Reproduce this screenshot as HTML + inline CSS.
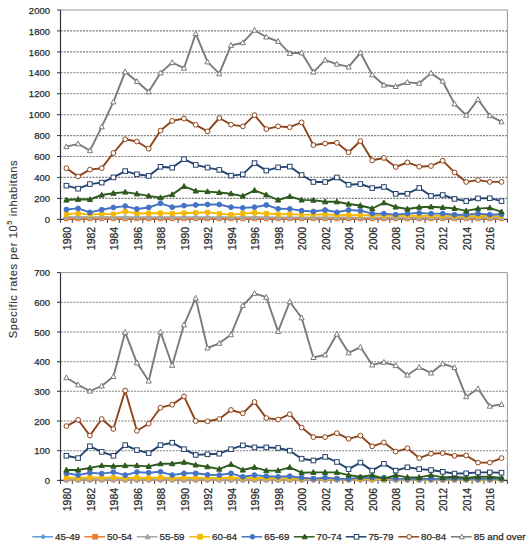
<!DOCTYPE html>
<html><head><meta charset="utf-8">
<style>
html,body{margin:0;padding:0;background:#fff;}
svg{display:block;}
text{font-family:"Liberation Sans",sans-serif;fill:#2b2b2b;stroke:#2b2b2b;stroke-width:0.25px;}
.yl{font-size:9.5px;}
.xl{font-size:10.5px;}
.yt{font-size:11.2px;letter-spacing:0.55px;fill:#333;stroke-width:0.1px;}
.lg{font-size:9.8px;}
</style></head><body>
<svg width="530" height="550" viewBox="0 0 530 550">
<rect width="530" height="550" fill="#fff"/>
<line x1="60.5" y1="198.4" x2="507.4" y2="198.4" stroke="#7a7a7a" stroke-width="1.1" stroke-dasharray="2 1.2"/>
<line x1="60.5" y1="177.4" x2="507.4" y2="177.4" stroke="#7a7a7a" stroke-width="1.1" stroke-dasharray="2 1.2"/>
<line x1="60.5" y1="156.5" x2="507.4" y2="156.5" stroke="#7a7a7a" stroke-width="1.1" stroke-dasharray="2 1.2"/>
<line x1="60.5" y1="135.6" x2="507.4" y2="135.6" stroke="#7a7a7a" stroke-width="1.1" stroke-dasharray="2 1.2"/>
<line x1="60.5" y1="114.7" x2="507.4" y2="114.7" stroke="#7a7a7a" stroke-width="1.1" stroke-dasharray="2 1.2"/>
<line x1="60.5" y1="93.7" x2="507.4" y2="93.7" stroke="#7a7a7a" stroke-width="1.1" stroke-dasharray="2 1.2"/>
<line x1="60.5" y1="72.8" x2="507.4" y2="72.8" stroke="#7a7a7a" stroke-width="1.1" stroke-dasharray="2 1.2"/>
<line x1="60.5" y1="51.9" x2="507.4" y2="51.9" stroke="#7a7a7a" stroke-width="1.1" stroke-dasharray="2 1.2"/>
<line x1="60.5" y1="30.9" x2="507.4" y2="30.9" stroke="#7a7a7a" stroke-width="1.1" stroke-dasharray="2 1.2"/>
<path d="M60.5 10.0H507.4V219.3" fill="none" stroke="#999" stroke-width="1"/>
<line x1="57.0" y1="219.3" x2="60.5" y2="219.3" stroke="#333" stroke-width="1"/>
<text x="50" y="222.9" text-anchor="end" class="yl">0</text>
<line x1="57.0" y1="198.4" x2="60.5" y2="198.4" stroke="#333" stroke-width="1"/>
<text x="50" y="202.0" text-anchor="end" class="yl">200</text>
<line x1="57.0" y1="177.4" x2="60.5" y2="177.4" stroke="#333" stroke-width="1"/>
<text x="50" y="181.0" text-anchor="end" class="yl">400</text>
<line x1="57.0" y1="156.5" x2="60.5" y2="156.5" stroke="#333" stroke-width="1"/>
<text x="50" y="160.1" text-anchor="end" class="yl">600</text>
<line x1="57.0" y1="135.6" x2="60.5" y2="135.6" stroke="#333" stroke-width="1"/>
<text x="50" y="139.2" text-anchor="end" class="yl">800</text>
<line x1="57.0" y1="114.7" x2="60.5" y2="114.7" stroke="#333" stroke-width="1"/>
<text x="50" y="118.2" text-anchor="end" class="yl">1000</text>
<line x1="57.0" y1="93.7" x2="60.5" y2="93.7" stroke="#333" stroke-width="1"/>
<text x="50" y="97.3" text-anchor="end" class="yl">1200</text>
<line x1="57.0" y1="72.8" x2="60.5" y2="72.8" stroke="#333" stroke-width="1"/>
<text x="50" y="76.4" text-anchor="end" class="yl">1400</text>
<line x1="57.0" y1="51.9" x2="60.5" y2="51.9" stroke="#333" stroke-width="1"/>
<text x="50" y="55.5" text-anchor="end" class="yl">1600</text>
<line x1="57.0" y1="30.9" x2="60.5" y2="30.9" stroke="#333" stroke-width="1"/>
<text x="50" y="34.5" text-anchor="end" class="yl">1800</text>
<line x1="57.0" y1="10.0" x2="60.5" y2="10.0" stroke="#333" stroke-width="1"/>
<text x="50" y="13.6" text-anchor="end" class="yl">2000</text>
<line x1="60.5" y1="219.3" x2="60.5" y2="222.8" stroke="#333" stroke-width="1"/>
<line x1="72.3" y1="219.3" x2="72.3" y2="222.8" stroke="#333" stroke-width="1"/>
<line x1="84.0" y1="219.3" x2="84.0" y2="222.8" stroke="#333" stroke-width="1"/>
<line x1="95.8" y1="219.3" x2="95.8" y2="222.8" stroke="#333" stroke-width="1"/>
<line x1="107.5" y1="219.3" x2="107.5" y2="222.8" stroke="#333" stroke-width="1"/>
<line x1="119.3" y1="219.3" x2="119.3" y2="222.8" stroke="#333" stroke-width="1"/>
<line x1="131.1" y1="219.3" x2="131.1" y2="222.8" stroke="#333" stroke-width="1"/>
<line x1="142.8" y1="219.3" x2="142.8" y2="222.8" stroke="#333" stroke-width="1"/>
<line x1="154.6" y1="219.3" x2="154.6" y2="222.8" stroke="#333" stroke-width="1"/>
<line x1="166.3" y1="219.3" x2="166.3" y2="222.8" stroke="#333" stroke-width="1"/>
<line x1="178.1" y1="219.3" x2="178.1" y2="222.8" stroke="#333" stroke-width="1"/>
<line x1="189.9" y1="219.3" x2="189.9" y2="222.8" stroke="#333" stroke-width="1"/>
<line x1="201.6" y1="219.3" x2="201.6" y2="222.8" stroke="#333" stroke-width="1"/>
<line x1="213.4" y1="219.3" x2="213.4" y2="222.8" stroke="#333" stroke-width="1"/>
<line x1="225.1" y1="219.3" x2="225.1" y2="222.8" stroke="#333" stroke-width="1"/>
<line x1="236.9" y1="219.3" x2="236.9" y2="222.8" stroke="#333" stroke-width="1"/>
<line x1="248.7" y1="219.3" x2="248.7" y2="222.8" stroke="#333" stroke-width="1"/>
<line x1="260.4" y1="219.3" x2="260.4" y2="222.8" stroke="#333" stroke-width="1"/>
<line x1="272.2" y1="219.3" x2="272.2" y2="222.8" stroke="#333" stroke-width="1"/>
<line x1="283.9" y1="219.3" x2="283.9" y2="222.8" stroke="#333" stroke-width="1"/>
<line x1="295.7" y1="219.3" x2="295.7" y2="222.8" stroke="#333" stroke-width="1"/>
<line x1="307.5" y1="219.3" x2="307.5" y2="222.8" stroke="#333" stroke-width="1"/>
<line x1="319.2" y1="219.3" x2="319.2" y2="222.8" stroke="#333" stroke-width="1"/>
<line x1="331.0" y1="219.3" x2="331.0" y2="222.8" stroke="#333" stroke-width="1"/>
<line x1="342.8" y1="219.3" x2="342.8" y2="222.8" stroke="#333" stroke-width="1"/>
<line x1="354.5" y1="219.3" x2="354.5" y2="222.8" stroke="#333" stroke-width="1"/>
<line x1="366.3" y1="219.3" x2="366.3" y2="222.8" stroke="#333" stroke-width="1"/>
<line x1="378.0" y1="219.3" x2="378.0" y2="222.8" stroke="#333" stroke-width="1"/>
<line x1="389.8" y1="219.3" x2="389.8" y2="222.8" stroke="#333" stroke-width="1"/>
<line x1="401.6" y1="219.3" x2="401.6" y2="222.8" stroke="#333" stroke-width="1"/>
<line x1="413.3" y1="219.3" x2="413.3" y2="222.8" stroke="#333" stroke-width="1"/>
<line x1="425.1" y1="219.3" x2="425.1" y2="222.8" stroke="#333" stroke-width="1"/>
<line x1="436.8" y1="219.3" x2="436.8" y2="222.8" stroke="#333" stroke-width="1"/>
<line x1="448.6" y1="219.3" x2="448.6" y2="222.8" stroke="#333" stroke-width="1"/>
<line x1="460.4" y1="219.3" x2="460.4" y2="222.8" stroke="#333" stroke-width="1"/>
<line x1="472.1" y1="219.3" x2="472.1" y2="222.8" stroke="#333" stroke-width="1"/>
<line x1="483.9" y1="219.3" x2="483.9" y2="222.8" stroke="#333" stroke-width="1"/>
<line x1="495.6" y1="219.3" x2="495.6" y2="222.8" stroke="#333" stroke-width="1"/>
<line x1="507.4" y1="219.3" x2="507.4" y2="222.8" stroke="#333" stroke-width="1"/>
<text transform="translate(71.0,226.8) rotate(-90)" text-anchor="end" class="xl">1980</text>
<text transform="translate(94.5,226.8) rotate(-90)" text-anchor="end" class="xl">1982</text>
<text transform="translate(118.0,226.8) rotate(-90)" text-anchor="end" class="xl">1984</text>
<text transform="translate(141.5,226.8) rotate(-90)" text-anchor="end" class="xl">1986</text>
<text transform="translate(165.1,226.8) rotate(-90)" text-anchor="end" class="xl">1988</text>
<text transform="translate(188.6,226.8) rotate(-90)" text-anchor="end" class="xl">1990</text>
<text transform="translate(212.1,226.8) rotate(-90)" text-anchor="end" class="xl">1992</text>
<text transform="translate(235.6,226.8) rotate(-90)" text-anchor="end" class="xl">1994</text>
<text transform="translate(259.1,226.8) rotate(-90)" text-anchor="end" class="xl">1996</text>
<text transform="translate(282.7,226.8) rotate(-90)" text-anchor="end" class="xl">1998</text>
<text transform="translate(306.2,226.8) rotate(-90)" text-anchor="end" class="xl">2000</text>
<text transform="translate(329.7,226.8) rotate(-90)" text-anchor="end" class="xl">2002</text>
<text transform="translate(353.2,226.8) rotate(-90)" text-anchor="end" class="xl">2004</text>
<text transform="translate(376.8,226.8) rotate(-90)" text-anchor="end" class="xl">2006</text>
<text transform="translate(400.3,226.8) rotate(-90)" text-anchor="end" class="xl">2008</text>
<text transform="translate(423.8,226.8) rotate(-90)" text-anchor="end" class="xl">2010</text>
<text transform="translate(447.3,226.8) rotate(-90)" text-anchor="end" class="xl">2012</text>
<text transform="translate(470.8,226.8) rotate(-90)" text-anchor="end" class="xl">2014</text>
<text transform="translate(494.4,226.8) rotate(-90)" text-anchor="end" class="xl">2016</text>
<line x1="60.5" y1="10.0" x2="60.5" y2="219.3" stroke="#333" stroke-width="1.2"/>
<line x1="60.5" y1="219.3" x2="507.4" y2="219.3" stroke="#333" stroke-width="1.2"/>
<polyline points="66.4,217.8 78.1,217.8 89.9,217.8 101.7,217.8 113.4,217.8 125.2,217.8 136.9,217.9 148.7,217.9 160.5,217.9 172.2,217.9 184.0,217.9 195.7,217.9 207.5,217.9 219.3,218.0 231.0,218.0 242.8,218.0 254.5,218.0 266.3,218.0 278.1,218.0 289.8,218.0 301.6,218.1 313.4,218.1 325.1,218.1 336.9,218.1 348.6,218.1 360.4,218.3 372.2,218.3 383.9,218.3 395.7,218.3 407.4,218.3 419.2,218.4 431.0,218.4 442.7,218.4 454.5,218.4 466.2,218.4 478.0,218.4 489.8,218.4 501.5,218.4" fill="none" stroke="#5B9BD5" stroke-width="1.9" stroke-linejoin="round"/>
<path d="M66.4 215.2L69.0 217.8L66.4 220.4L63.8 217.8Z" fill="#5B9BD5" stroke="#5B9BD5" stroke-width="1.0"/>
<path d="M78.1 215.2L80.7 217.8L78.1 220.4L75.5 217.8Z" fill="#5B9BD5" stroke="#5B9BD5" stroke-width="1.0"/>
<path d="M89.9 215.2L92.5 217.8L89.9 220.4L87.3 217.8Z" fill="#5B9BD5" stroke="#5B9BD5" stroke-width="1.0"/>
<path d="M101.7 215.2L104.3 217.8L101.7 220.4L99.1 217.8Z" fill="#5B9BD5" stroke="#5B9BD5" stroke-width="1.0"/>
<path d="M113.4 215.2L116.0 217.8L113.4 220.4L110.8 217.8Z" fill="#5B9BD5" stroke="#5B9BD5" stroke-width="1.0"/>
<path d="M125.2 215.2L127.8 217.8L125.2 220.4L122.6 217.8Z" fill="#5B9BD5" stroke="#5B9BD5" stroke-width="1.0"/>
<path d="M136.9 215.3L139.5 217.9L136.9 220.5L134.3 217.9Z" fill="#5B9BD5" stroke="#5B9BD5" stroke-width="1.0"/>
<path d="M148.7 215.3L151.3 217.9L148.7 220.5L146.1 217.9Z" fill="#5B9BD5" stroke="#5B9BD5" stroke-width="1.0"/>
<path d="M160.5 215.3L163.1 217.9L160.5 220.5L157.9 217.9Z" fill="#5B9BD5" stroke="#5B9BD5" stroke-width="1.0"/>
<path d="M172.2 215.3L174.8 217.9L172.2 220.5L169.6 217.9Z" fill="#5B9BD5" stroke="#5B9BD5" stroke-width="1.0"/>
<path d="M184.0 215.3L186.6 217.9L184.0 220.5L181.4 217.9Z" fill="#5B9BD5" stroke="#5B9BD5" stroke-width="1.0"/>
<path d="M195.7 215.3L198.3 217.9L195.7 220.5L193.1 217.9Z" fill="#5B9BD5" stroke="#5B9BD5" stroke-width="1.0"/>
<path d="M207.5 215.3L210.1 217.9L207.5 220.5L204.9 217.9Z" fill="#5B9BD5" stroke="#5B9BD5" stroke-width="1.0"/>
<path d="M219.3 215.4L221.9 218.0L219.3 220.6L216.7 218.0Z" fill="#5B9BD5" stroke="#5B9BD5" stroke-width="1.0"/>
<path d="M231.0 215.4L233.6 218.0L231.0 220.6L228.4 218.0Z" fill="#5B9BD5" stroke="#5B9BD5" stroke-width="1.0"/>
<path d="M242.8 215.4L245.4 218.0L242.8 220.6L240.2 218.0Z" fill="#5B9BD5" stroke="#5B9BD5" stroke-width="1.0"/>
<path d="M254.5 215.4L257.1 218.0L254.5 220.6L251.9 218.0Z" fill="#5B9BD5" stroke="#5B9BD5" stroke-width="1.0"/>
<path d="M266.3 215.4L268.9 218.0L266.3 220.6L263.7 218.0Z" fill="#5B9BD5" stroke="#5B9BD5" stroke-width="1.0"/>
<path d="M278.1 215.4L280.7 218.0L278.1 220.6L275.5 218.0Z" fill="#5B9BD5" stroke="#5B9BD5" stroke-width="1.0"/>
<path d="M289.8 215.4L292.4 218.0L289.8 220.6L287.2 218.0Z" fill="#5B9BD5" stroke="#5B9BD5" stroke-width="1.0"/>
<path d="M301.6 215.5L304.2 218.1L301.6 220.7L299.0 218.1Z" fill="#5B9BD5" stroke="#5B9BD5" stroke-width="1.0"/>
<path d="M313.4 215.5L316.0 218.1L313.4 220.7L310.8 218.1Z" fill="#5B9BD5" stroke="#5B9BD5" stroke-width="1.0"/>
<path d="M325.1 215.5L327.7 218.1L325.1 220.7L322.5 218.1Z" fill="#5B9BD5" stroke="#5B9BD5" stroke-width="1.0"/>
<path d="M336.9 215.5L339.5 218.1L336.9 220.7L334.3 218.1Z" fill="#5B9BD5" stroke="#5B9BD5" stroke-width="1.0"/>
<path d="M348.6 215.5L351.2 218.1L348.6 220.7L346.0 218.1Z" fill="#5B9BD5" stroke="#5B9BD5" stroke-width="1.0"/>
<path d="M360.4 215.7L363.0 218.3L360.4 220.9L357.8 218.3Z" fill="#5B9BD5" stroke="#5B9BD5" stroke-width="1.0"/>
<path d="M372.2 215.7L374.8 218.3L372.2 220.9L369.6 218.3Z" fill="#5B9BD5" stroke="#5B9BD5" stroke-width="1.0"/>
<path d="M383.9 215.7L386.5 218.3L383.9 220.9L381.3 218.3Z" fill="#5B9BD5" stroke="#5B9BD5" stroke-width="1.0"/>
<path d="M395.7 215.7L398.3 218.3L395.7 220.9L393.1 218.3Z" fill="#5B9BD5" stroke="#5B9BD5" stroke-width="1.0"/>
<path d="M407.4 215.7L410.0 218.3L407.4 220.9L404.8 218.3Z" fill="#5B9BD5" stroke="#5B9BD5" stroke-width="1.0"/>
<path d="M419.2 215.8L421.8 218.4L419.2 221.0L416.6 218.4Z" fill="#5B9BD5" stroke="#5B9BD5" stroke-width="1.0"/>
<path d="M431.0 215.8L433.6 218.4L431.0 221.0L428.4 218.4Z" fill="#5B9BD5" stroke="#5B9BD5" stroke-width="1.0"/>
<path d="M442.7 215.8L445.3 218.4L442.7 221.0L440.1 218.4Z" fill="#5B9BD5" stroke="#5B9BD5" stroke-width="1.0"/>
<path d="M454.5 215.8L457.1 218.4L454.5 221.0L451.9 218.4Z" fill="#5B9BD5" stroke="#5B9BD5" stroke-width="1.0"/>
<path d="M466.2 215.8L468.8 218.4L466.2 221.0L463.6 218.4Z" fill="#5B9BD5" stroke="#5B9BD5" stroke-width="1.0"/>
<path d="M478.0 215.8L480.6 218.4L478.0 221.0L475.4 218.4Z" fill="#5B9BD5" stroke="#5B9BD5" stroke-width="1.0"/>
<path d="M489.8 215.8L492.4 218.4L489.8 221.0L487.2 218.4Z" fill="#5B9BD5" stroke="#5B9BD5" stroke-width="1.0"/>
<path d="M501.5 215.8L504.1 218.4L501.5 221.0L498.9 218.4Z" fill="#5B9BD5" stroke="#5B9BD5" stroke-width="1.0"/>
<polyline points="66.4,218.7 78.1,218.7 89.9,218.7 101.7,218.7 113.4,218.7 125.2,218.7 136.9,218.7 148.7,218.7 160.5,218.7 172.2,218.7 184.0,218.7 195.7,218.7 207.5,218.7 219.3,218.7 231.0,218.7 242.8,218.7 254.5,218.7 266.3,218.7 278.1,218.7 289.8,218.7 301.6,218.7 313.4,218.7 325.1,218.7 336.9,218.7 348.6,218.7 360.4,218.7 372.2,218.7 383.9,218.7 395.7,218.7 407.4,218.7 419.2,218.7 431.0,218.7 442.7,218.7 454.5,218.7 466.2,218.7 478.0,218.7 489.8,218.7 501.5,218.7" fill="none" stroke="#ED7D31" stroke-width="1.9" stroke-linejoin="round"/>
<rect x="64.4" y="216.7" width="4.0" height="4.0" fill="#ED7D31" stroke="#ED7D31" stroke-width="1.0"/>
<rect x="76.1" y="216.7" width="4.0" height="4.0" fill="#ED7D31" stroke="#ED7D31" stroke-width="1.0"/>
<rect x="87.9" y="216.7" width="4.0" height="4.0" fill="#ED7D31" stroke="#ED7D31" stroke-width="1.0"/>
<rect x="99.7" y="216.7" width="4.0" height="4.0" fill="#ED7D31" stroke="#ED7D31" stroke-width="1.0"/>
<rect x="111.4" y="216.7" width="4.0" height="4.0" fill="#ED7D31" stroke="#ED7D31" stroke-width="1.0"/>
<rect x="123.2" y="216.7" width="4.0" height="4.0" fill="#ED7D31" stroke="#ED7D31" stroke-width="1.0"/>
<rect x="134.9" y="216.7" width="4.0" height="4.0" fill="#ED7D31" stroke="#ED7D31" stroke-width="1.0"/>
<rect x="146.7" y="216.7" width="4.0" height="4.0" fill="#ED7D31" stroke="#ED7D31" stroke-width="1.0"/>
<rect x="158.5" y="216.7" width="4.0" height="4.0" fill="#ED7D31" stroke="#ED7D31" stroke-width="1.0"/>
<rect x="170.2" y="216.7" width="4.0" height="4.0" fill="#ED7D31" stroke="#ED7D31" stroke-width="1.0"/>
<rect x="182.0" y="216.7" width="4.0" height="4.0" fill="#ED7D31" stroke="#ED7D31" stroke-width="1.0"/>
<rect x="193.7" y="216.7" width="4.0" height="4.0" fill="#ED7D31" stroke="#ED7D31" stroke-width="1.0"/>
<rect x="205.5" y="216.7" width="4.0" height="4.0" fill="#ED7D31" stroke="#ED7D31" stroke-width="1.0"/>
<rect x="217.3" y="216.7" width="4.0" height="4.0" fill="#ED7D31" stroke="#ED7D31" stroke-width="1.0"/>
<rect x="229.0" y="216.7" width="4.0" height="4.0" fill="#ED7D31" stroke="#ED7D31" stroke-width="1.0"/>
<rect x="240.8" y="216.7" width="4.0" height="4.0" fill="#ED7D31" stroke="#ED7D31" stroke-width="1.0"/>
<rect x="252.5" y="216.7" width="4.0" height="4.0" fill="#ED7D31" stroke="#ED7D31" stroke-width="1.0"/>
<rect x="264.3" y="216.7" width="4.0" height="4.0" fill="#ED7D31" stroke="#ED7D31" stroke-width="1.0"/>
<rect x="276.1" y="216.7" width="4.0" height="4.0" fill="#ED7D31" stroke="#ED7D31" stroke-width="1.0"/>
<rect x="287.8" y="216.7" width="4.0" height="4.0" fill="#ED7D31" stroke="#ED7D31" stroke-width="1.0"/>
<rect x="299.6" y="216.7" width="4.0" height="4.0" fill="#ED7D31" stroke="#ED7D31" stroke-width="1.0"/>
<rect x="311.4" y="216.7" width="4.0" height="4.0" fill="#ED7D31" stroke="#ED7D31" stroke-width="1.0"/>
<rect x="323.1" y="216.7" width="4.0" height="4.0" fill="#ED7D31" stroke="#ED7D31" stroke-width="1.0"/>
<rect x="334.9" y="216.7" width="4.0" height="4.0" fill="#ED7D31" stroke="#ED7D31" stroke-width="1.0"/>
<rect x="346.6" y="216.7" width="4.0" height="4.0" fill="#ED7D31" stroke="#ED7D31" stroke-width="1.0"/>
<rect x="358.4" y="216.7" width="4.0" height="4.0" fill="#ED7D31" stroke="#ED7D31" stroke-width="1.0"/>
<rect x="370.2" y="216.7" width="4.0" height="4.0" fill="#ED7D31" stroke="#ED7D31" stroke-width="1.0"/>
<rect x="381.9" y="216.7" width="4.0" height="4.0" fill="#ED7D31" stroke="#ED7D31" stroke-width="1.0"/>
<rect x="393.7" y="216.7" width="4.0" height="4.0" fill="#ED7D31" stroke="#ED7D31" stroke-width="1.0"/>
<rect x="405.4" y="216.7" width="4.0" height="4.0" fill="#ED7D31" stroke="#ED7D31" stroke-width="1.0"/>
<rect x="417.2" y="216.7" width="4.0" height="4.0" fill="#ED7D31" stroke="#ED7D31" stroke-width="1.0"/>
<rect x="429.0" y="216.7" width="4.0" height="4.0" fill="#ED7D31" stroke="#ED7D31" stroke-width="1.0"/>
<rect x="440.7" y="216.7" width="4.0" height="4.0" fill="#ED7D31" stroke="#ED7D31" stroke-width="1.0"/>
<rect x="452.5" y="216.7" width="4.0" height="4.0" fill="#ED7D31" stroke="#ED7D31" stroke-width="1.0"/>
<rect x="464.2" y="216.7" width="4.0" height="4.0" fill="#ED7D31" stroke="#ED7D31" stroke-width="1.0"/>
<rect x="476.0" y="216.7" width="4.0" height="4.0" fill="#ED7D31" stroke="#ED7D31" stroke-width="1.0"/>
<rect x="487.8" y="216.7" width="4.0" height="4.0" fill="#ED7D31" stroke="#ED7D31" stroke-width="1.0"/>
<rect x="499.5" y="216.7" width="4.0" height="4.0" fill="#ED7D31" stroke="#ED7D31" stroke-width="1.0"/>
<polyline points="66.4,217.2 78.1,217.1 89.9,217.2 101.7,217.2 113.4,217.3 125.2,217.2 136.9,217.2 148.7,217.2 160.5,217.2 172.2,217.2 184.0,217.2 195.7,217.2 207.5,217.2 219.3,217.3 231.0,217.3 242.8,217.3 254.5,217.3 266.3,217.3 278.1,217.4 289.8,217.4 301.6,217.4 313.4,217.5 325.1,217.5 336.9,217.5 348.6,217.5 360.4,217.6 372.2,217.6 383.9,217.6 395.7,217.7 407.4,217.7 419.2,217.7 431.0,217.7 442.7,217.7 454.5,217.8 466.2,217.8 478.0,217.8 489.8,217.8 501.5,217.8" fill="none" stroke="#A5A5A5" stroke-width="1.9" stroke-linejoin="round"/>
<path d="M66.4 214.4L69.0 219.2L63.8 219.2Z" fill="#A5A5A5" stroke="#A5A5A5" stroke-width="1.0" stroke-linejoin="miter"/>
<path d="M78.1 214.3L80.7 219.1L75.5 219.1Z" fill="#A5A5A5" stroke="#A5A5A5" stroke-width="1.0" stroke-linejoin="miter"/>
<path d="M89.9 214.4L92.5 219.2L87.3 219.2Z" fill="#A5A5A5" stroke="#A5A5A5" stroke-width="1.0" stroke-linejoin="miter"/>
<path d="M101.7 214.4L104.3 219.2L99.1 219.2Z" fill="#A5A5A5" stroke="#A5A5A5" stroke-width="1.0" stroke-linejoin="miter"/>
<path d="M113.4 214.5L116.0 219.4L110.8 219.4Z" fill="#A5A5A5" stroke="#A5A5A5" stroke-width="1.0" stroke-linejoin="miter"/>
<path d="M125.2 214.4L127.8 219.2L122.6 219.2Z" fill="#A5A5A5" stroke="#A5A5A5" stroke-width="1.0" stroke-linejoin="miter"/>
<path d="M136.9 214.4L139.5 219.2L134.3 219.2Z" fill="#A5A5A5" stroke="#A5A5A5" stroke-width="1.0" stroke-linejoin="miter"/>
<path d="M148.7 214.4L151.3 219.2L146.1 219.2Z" fill="#A5A5A5" stroke="#A5A5A5" stroke-width="1.0" stroke-linejoin="miter"/>
<path d="M160.5 214.4L163.1 219.2L157.9 219.2Z" fill="#A5A5A5" stroke="#A5A5A5" stroke-width="1.0" stroke-linejoin="miter"/>
<path d="M172.2 214.4L174.8 219.2L169.6 219.2Z" fill="#A5A5A5" stroke="#A5A5A5" stroke-width="1.0" stroke-linejoin="miter"/>
<path d="M184.0 214.4L186.6 219.2L181.4 219.2Z" fill="#A5A5A5" stroke="#A5A5A5" stroke-width="1.0" stroke-linejoin="miter"/>
<path d="M195.7 214.4L198.3 219.2L193.1 219.2Z" fill="#A5A5A5" stroke="#A5A5A5" stroke-width="1.0" stroke-linejoin="miter"/>
<path d="M207.5 214.4L210.1 219.2L204.9 219.2Z" fill="#A5A5A5" stroke="#A5A5A5" stroke-width="1.0" stroke-linejoin="miter"/>
<path d="M219.3 214.5L221.9 219.4L216.7 219.4Z" fill="#A5A5A5" stroke="#A5A5A5" stroke-width="1.0" stroke-linejoin="miter"/>
<path d="M231.0 214.5L233.6 219.4L228.4 219.4Z" fill="#A5A5A5" stroke="#A5A5A5" stroke-width="1.0" stroke-linejoin="miter"/>
<path d="M242.8 214.5L245.4 219.4L240.2 219.4Z" fill="#A5A5A5" stroke="#A5A5A5" stroke-width="1.0" stroke-linejoin="miter"/>
<path d="M254.5 214.5L257.1 219.4L251.9 219.4Z" fill="#A5A5A5" stroke="#A5A5A5" stroke-width="1.0" stroke-linejoin="miter"/>
<path d="M266.3 214.5L268.9 219.4L263.7 219.4Z" fill="#A5A5A5" stroke="#A5A5A5" stroke-width="1.0" stroke-linejoin="miter"/>
<path d="M278.1 214.6L280.7 219.5L275.5 219.5Z" fill="#A5A5A5" stroke="#A5A5A5" stroke-width="1.0" stroke-linejoin="miter"/>
<path d="M289.8 214.6L292.4 219.5L287.2 219.5Z" fill="#A5A5A5" stroke="#A5A5A5" stroke-width="1.0" stroke-linejoin="miter"/>
<path d="M301.6 214.6L304.2 219.5L299.0 219.5Z" fill="#A5A5A5" stroke="#A5A5A5" stroke-width="1.0" stroke-linejoin="miter"/>
<path d="M313.4 214.7L316.0 219.6L310.8 219.6Z" fill="#A5A5A5" stroke="#A5A5A5" stroke-width="1.0" stroke-linejoin="miter"/>
<path d="M325.1 214.7L327.7 219.6L322.5 219.6Z" fill="#A5A5A5" stroke="#A5A5A5" stroke-width="1.0" stroke-linejoin="miter"/>
<path d="M336.9 214.7L339.5 219.6L334.3 219.6Z" fill="#A5A5A5" stroke="#A5A5A5" stroke-width="1.0" stroke-linejoin="miter"/>
<path d="M348.6 214.7L351.2 219.6L346.0 219.6Z" fill="#A5A5A5" stroke="#A5A5A5" stroke-width="1.0" stroke-linejoin="miter"/>
<path d="M360.4 214.8L363.0 219.7L357.8 219.7Z" fill="#A5A5A5" stroke="#A5A5A5" stroke-width="1.0" stroke-linejoin="miter"/>
<path d="M372.2 214.8L374.8 219.7L369.6 219.7Z" fill="#A5A5A5" stroke="#A5A5A5" stroke-width="1.0" stroke-linejoin="miter"/>
<path d="M383.9 214.8L386.5 219.7L381.3 219.7Z" fill="#A5A5A5" stroke="#A5A5A5" stroke-width="1.0" stroke-linejoin="miter"/>
<path d="M395.7 214.9L398.3 219.8L393.1 219.8Z" fill="#A5A5A5" stroke="#A5A5A5" stroke-width="1.0" stroke-linejoin="miter"/>
<path d="M407.4 214.9L410.0 219.8L404.8 219.8Z" fill="#A5A5A5" stroke="#A5A5A5" stroke-width="1.0" stroke-linejoin="miter"/>
<path d="M419.2 214.9L421.8 219.8L416.6 219.8Z" fill="#A5A5A5" stroke="#A5A5A5" stroke-width="1.0" stroke-linejoin="miter"/>
<path d="M431.0 214.9L433.6 219.8L428.4 219.8Z" fill="#A5A5A5" stroke="#A5A5A5" stroke-width="1.0" stroke-linejoin="miter"/>
<path d="M442.7 214.9L445.3 219.8L440.1 219.8Z" fill="#A5A5A5" stroke="#A5A5A5" stroke-width="1.0" stroke-linejoin="miter"/>
<path d="M454.5 215.0L457.1 219.9L451.9 219.9Z" fill="#A5A5A5" stroke="#A5A5A5" stroke-width="1.0" stroke-linejoin="miter"/>
<path d="M466.2 215.0L468.8 219.9L463.6 219.9Z" fill="#A5A5A5" stroke="#A5A5A5" stroke-width="1.0" stroke-linejoin="miter"/>
<path d="M478.0 215.0L480.6 219.9L475.4 219.9Z" fill="#A5A5A5" stroke="#A5A5A5" stroke-width="1.0" stroke-linejoin="miter"/>
<path d="M489.8 215.0L492.4 219.9L487.2 219.9Z" fill="#A5A5A5" stroke="#A5A5A5" stroke-width="1.0" stroke-linejoin="miter"/>
<path d="M501.5 215.0L504.1 219.9L498.9 219.9Z" fill="#A5A5A5" stroke="#A5A5A5" stroke-width="1.0" stroke-linejoin="miter"/>
<polyline points="66.4,214.3 78.1,213.4 89.9,214.6 101.7,213.9 113.4,214.1 125.2,211.6 136.9,213.5 148.7,213.2 160.5,213.0 172.2,213.6 184.0,213.0 195.7,212.7 207.5,212.3 219.3,213.6 231.0,214.7 242.8,213.6 254.5,212.7 266.3,213.6 278.1,214.3 289.8,214.1 301.6,214.6 313.4,214.6 325.1,214.3 336.9,215.1 348.6,214.9 360.4,215.1 372.2,215.3 383.9,215.5 395.7,215.7 407.4,215.7 419.2,215.6 431.0,215.8 442.7,215.7 454.5,216.0 466.2,216.2 478.0,216.0 489.8,216.2 501.5,216.2" fill="none" stroke="#F5B800" stroke-width="1.9" stroke-linejoin="round"/>
<rect x="64.4" y="212.3" width="4.0" height="4.0" fill="#F5B800" stroke="#F5B800" stroke-width="1.0"/>
<rect x="76.1" y="211.4" width="4.0" height="4.0" fill="#F5B800" stroke="#F5B800" stroke-width="1.0"/>
<rect x="87.9" y="212.6" width="4.0" height="4.0" fill="#F5B800" stroke="#F5B800" stroke-width="1.0"/>
<rect x="99.7" y="211.9" width="4.0" height="4.0" fill="#F5B800" stroke="#F5B800" stroke-width="1.0"/>
<rect x="111.4" y="212.1" width="4.0" height="4.0" fill="#F5B800" stroke="#F5B800" stroke-width="1.0"/>
<rect x="123.2" y="209.6" width="4.0" height="4.0" fill="#F5B800" stroke="#F5B800" stroke-width="1.0"/>
<rect x="134.9" y="211.5" width="4.0" height="4.0" fill="#F5B800" stroke="#F5B800" stroke-width="1.0"/>
<rect x="146.7" y="211.2" width="4.0" height="4.0" fill="#F5B800" stroke="#F5B800" stroke-width="1.0"/>
<rect x="158.5" y="211.0" width="4.0" height="4.0" fill="#F5B800" stroke="#F5B800" stroke-width="1.0"/>
<rect x="170.2" y="211.6" width="4.0" height="4.0" fill="#F5B800" stroke="#F5B800" stroke-width="1.0"/>
<rect x="182.0" y="211.0" width="4.0" height="4.0" fill="#F5B800" stroke="#F5B800" stroke-width="1.0"/>
<rect x="193.7" y="210.7" width="4.0" height="4.0" fill="#F5B800" stroke="#F5B800" stroke-width="1.0"/>
<rect x="205.5" y="210.3" width="4.0" height="4.0" fill="#F5B800" stroke="#F5B800" stroke-width="1.0"/>
<rect x="217.3" y="211.6" width="4.0" height="4.0" fill="#F5B800" stroke="#F5B800" stroke-width="1.0"/>
<rect x="229.0" y="212.7" width="4.0" height="4.0" fill="#F5B800" stroke="#F5B800" stroke-width="1.0"/>
<rect x="240.8" y="211.6" width="4.0" height="4.0" fill="#F5B800" stroke="#F5B800" stroke-width="1.0"/>
<rect x="252.5" y="210.7" width="4.0" height="4.0" fill="#F5B800" stroke="#F5B800" stroke-width="1.0"/>
<rect x="264.3" y="211.6" width="4.0" height="4.0" fill="#F5B800" stroke="#F5B800" stroke-width="1.0"/>
<rect x="276.1" y="212.3" width="4.0" height="4.0" fill="#F5B800" stroke="#F5B800" stroke-width="1.0"/>
<rect x="287.8" y="212.1" width="4.0" height="4.0" fill="#F5B800" stroke="#F5B800" stroke-width="1.0"/>
<rect x="299.6" y="212.6" width="4.0" height="4.0" fill="#F5B800" stroke="#F5B800" stroke-width="1.0"/>
<rect x="311.4" y="212.6" width="4.0" height="4.0" fill="#F5B800" stroke="#F5B800" stroke-width="1.0"/>
<rect x="323.1" y="212.3" width="4.0" height="4.0" fill="#F5B800" stroke="#F5B800" stroke-width="1.0"/>
<rect x="334.9" y="213.1" width="4.0" height="4.0" fill="#F5B800" stroke="#F5B800" stroke-width="1.0"/>
<rect x="346.6" y="212.9" width="4.0" height="4.0" fill="#F5B800" stroke="#F5B800" stroke-width="1.0"/>
<rect x="358.4" y="213.1" width="4.0" height="4.0" fill="#F5B800" stroke="#F5B800" stroke-width="1.0"/>
<rect x="370.2" y="213.3" width="4.0" height="4.0" fill="#F5B800" stroke="#F5B800" stroke-width="1.0"/>
<rect x="381.9" y="213.5" width="4.0" height="4.0" fill="#F5B800" stroke="#F5B800" stroke-width="1.0"/>
<rect x="393.7" y="213.7" width="4.0" height="4.0" fill="#F5B800" stroke="#F5B800" stroke-width="1.0"/>
<rect x="405.4" y="213.7" width="4.0" height="4.0" fill="#F5B800" stroke="#F5B800" stroke-width="1.0"/>
<rect x="417.2" y="213.6" width="4.0" height="4.0" fill="#F5B800" stroke="#F5B800" stroke-width="1.0"/>
<rect x="429.0" y="213.8" width="4.0" height="4.0" fill="#F5B800" stroke="#F5B800" stroke-width="1.0"/>
<rect x="440.7" y="213.7" width="4.0" height="4.0" fill="#F5B800" stroke="#F5B800" stroke-width="1.0"/>
<rect x="452.5" y="214.0" width="4.0" height="4.0" fill="#F5B800" stroke="#F5B800" stroke-width="1.0"/>
<rect x="464.2" y="214.2" width="4.0" height="4.0" fill="#F5B800" stroke="#F5B800" stroke-width="1.0"/>
<rect x="476.0" y="214.0" width="4.0" height="4.0" fill="#F5B800" stroke="#F5B800" stroke-width="1.0"/>
<rect x="487.8" y="214.2" width="4.0" height="4.0" fill="#F5B800" stroke="#F5B800" stroke-width="1.0"/>
<rect x="499.5" y="214.2" width="4.0" height="4.0" fill="#F5B800" stroke="#F5B800" stroke-width="1.0"/>
<polyline points="66.4,209.5 78.1,208.4 89.9,212.4 101.7,209.7 113.4,207.5 125.2,206.1 136.9,209.0 148.7,207.5 160.5,203.4 172.2,207.2 184.0,205.7 195.7,205.0 207.5,204.5 219.3,204.5 231.0,207.2 242.8,207.9 254.5,207.2 266.3,205.0 278.1,208.8 289.8,208.9 301.6,210.7 313.4,211.5 325.1,210.0 336.9,212.3 348.6,210.0 360.4,210.7 372.2,213.6 383.9,213.6 395.7,214.6 407.4,213.6 419.2,212.9 431.0,213.6 442.7,213.6 454.5,214.7 466.2,214.7 478.0,213.6 489.8,214.7 501.5,214.3" fill="none" stroke="#4472C4" stroke-width="1.9" stroke-linejoin="round"/>
<circle cx="66.4" cy="209.5" r="2.4" fill="#4472C4" stroke="#4472C4" stroke-width="1.0"/>
<circle cx="78.1" cy="208.4" r="2.4" fill="#4472C4" stroke="#4472C4" stroke-width="1.0"/>
<circle cx="89.9" cy="212.4" r="2.4" fill="#4472C4" stroke="#4472C4" stroke-width="1.0"/>
<circle cx="101.7" cy="209.7" r="2.4" fill="#4472C4" stroke="#4472C4" stroke-width="1.0"/>
<circle cx="113.4" cy="207.5" r="2.4" fill="#4472C4" stroke="#4472C4" stroke-width="1.0"/>
<circle cx="125.2" cy="206.1" r="2.4" fill="#4472C4" stroke="#4472C4" stroke-width="1.0"/>
<circle cx="136.9" cy="209.0" r="2.4" fill="#4472C4" stroke="#4472C4" stroke-width="1.0"/>
<circle cx="148.7" cy="207.5" r="2.4" fill="#4472C4" stroke="#4472C4" stroke-width="1.0"/>
<circle cx="160.5" cy="203.4" r="2.4" fill="#4472C4" stroke="#4472C4" stroke-width="1.0"/>
<circle cx="172.2" cy="207.2" r="2.4" fill="#4472C4" stroke="#4472C4" stroke-width="1.0"/>
<circle cx="184.0" cy="205.7" r="2.4" fill="#4472C4" stroke="#4472C4" stroke-width="1.0"/>
<circle cx="195.7" cy="205.0" r="2.4" fill="#4472C4" stroke="#4472C4" stroke-width="1.0"/>
<circle cx="207.5" cy="204.5" r="2.4" fill="#4472C4" stroke="#4472C4" stroke-width="1.0"/>
<circle cx="219.3" cy="204.5" r="2.4" fill="#4472C4" stroke="#4472C4" stroke-width="1.0"/>
<circle cx="231.0" cy="207.2" r="2.4" fill="#4472C4" stroke="#4472C4" stroke-width="1.0"/>
<circle cx="242.8" cy="207.9" r="2.4" fill="#4472C4" stroke="#4472C4" stroke-width="1.0"/>
<circle cx="254.5" cy="207.2" r="2.4" fill="#4472C4" stroke="#4472C4" stroke-width="1.0"/>
<circle cx="266.3" cy="205.0" r="2.4" fill="#4472C4" stroke="#4472C4" stroke-width="1.0"/>
<circle cx="278.1" cy="208.8" r="2.4" fill="#4472C4" stroke="#4472C4" stroke-width="1.0"/>
<circle cx="289.8" cy="208.9" r="2.4" fill="#4472C4" stroke="#4472C4" stroke-width="1.0"/>
<circle cx="301.6" cy="210.7" r="2.4" fill="#4472C4" stroke="#4472C4" stroke-width="1.0"/>
<circle cx="313.4" cy="211.5" r="2.4" fill="#4472C4" stroke="#4472C4" stroke-width="1.0"/>
<circle cx="325.1" cy="210.0" r="2.4" fill="#4472C4" stroke="#4472C4" stroke-width="1.0"/>
<circle cx="336.9" cy="212.3" r="2.4" fill="#4472C4" stroke="#4472C4" stroke-width="1.0"/>
<circle cx="348.6" cy="210.0" r="2.4" fill="#4472C4" stroke="#4472C4" stroke-width="1.0"/>
<circle cx="360.4" cy="210.7" r="2.4" fill="#4472C4" stroke="#4472C4" stroke-width="1.0"/>
<circle cx="372.2" cy="213.6" r="2.4" fill="#4472C4" stroke="#4472C4" stroke-width="1.0"/>
<circle cx="383.9" cy="213.6" r="2.4" fill="#4472C4" stroke="#4472C4" stroke-width="1.0"/>
<circle cx="395.7" cy="214.6" r="2.4" fill="#4472C4" stroke="#4472C4" stroke-width="1.0"/>
<circle cx="407.4" cy="213.6" r="2.4" fill="#4472C4" stroke="#4472C4" stroke-width="1.0"/>
<circle cx="419.2" cy="212.9" r="2.4" fill="#4472C4" stroke="#4472C4" stroke-width="1.0"/>
<circle cx="431.0" cy="213.6" r="2.4" fill="#4472C4" stroke="#4472C4" stroke-width="1.0"/>
<circle cx="442.7" cy="213.6" r="2.4" fill="#4472C4" stroke="#4472C4" stroke-width="1.0"/>
<circle cx="454.5" cy="214.7" r="2.4" fill="#4472C4" stroke="#4472C4" stroke-width="1.0"/>
<circle cx="466.2" cy="214.7" r="2.4" fill="#4472C4" stroke="#4472C4" stroke-width="1.0"/>
<circle cx="478.0" cy="213.6" r="2.4" fill="#4472C4" stroke="#4472C4" stroke-width="1.0"/>
<circle cx="489.8" cy="214.7" r="2.4" fill="#4472C4" stroke="#4472C4" stroke-width="1.0"/>
<circle cx="501.5" cy="214.3" r="2.4" fill="#4472C4" stroke="#4472C4" stroke-width="1.0"/>
<polyline points="66.4,200.0 78.1,199.3 89.9,199.5 101.7,195.0 113.4,193.2 125.2,192.1 136.9,193.9 148.7,195.9 160.5,197.7 172.2,194.6 184.0,186.4 195.7,190.9 207.5,191.6 219.3,192.5 231.0,193.7 242.8,196.1 254.5,190.3 266.3,194.8 278.1,200.0 289.8,196.5 301.6,199.9 313.4,200.1 325.1,201.7 336.9,201.7 348.6,204.0 360.4,205.5 372.2,208.5 383.9,202.8 395.7,207.0 407.4,209.0 419.2,207.2 431.0,206.8 442.7,207.5 454.5,208.4 466.2,210.9 478.0,208.6 489.8,207.9 501.5,211.8" fill="none" stroke="#2E5A1C" stroke-width="1.9" stroke-linejoin="round"/>
<path d="M66.4 197.2L69.0 202.1L63.8 202.1Z" fill="#2E5A1C" stroke="#2E5A1C" stroke-width="1.0" stroke-linejoin="miter"/>
<path d="M78.1 196.5L80.7 201.4L75.5 201.4Z" fill="#2E5A1C" stroke="#2E5A1C" stroke-width="1.0" stroke-linejoin="miter"/>
<path d="M89.9 196.7L92.5 201.6L87.3 201.6Z" fill="#2E5A1C" stroke="#2E5A1C" stroke-width="1.0" stroke-linejoin="miter"/>
<path d="M101.7 192.2L104.3 197.1L99.1 197.1Z" fill="#2E5A1C" stroke="#2E5A1C" stroke-width="1.0" stroke-linejoin="miter"/>
<path d="M113.4 190.4L116.0 195.3L110.8 195.3Z" fill="#2E5A1C" stroke="#2E5A1C" stroke-width="1.0" stroke-linejoin="miter"/>
<path d="M125.2 189.3L127.8 194.1L122.6 194.1Z" fill="#2E5A1C" stroke="#2E5A1C" stroke-width="1.0" stroke-linejoin="miter"/>
<path d="M136.9 191.1L139.5 195.9L134.3 195.9Z" fill="#2E5A1C" stroke="#2E5A1C" stroke-width="1.0" stroke-linejoin="miter"/>
<path d="M148.7 193.1L151.3 197.9L146.1 197.9Z" fill="#2E5A1C" stroke="#2E5A1C" stroke-width="1.0" stroke-linejoin="miter"/>
<path d="M160.5 194.9L163.1 199.8L157.9 199.8Z" fill="#2E5A1C" stroke="#2E5A1C" stroke-width="1.0" stroke-linejoin="miter"/>
<path d="M172.2 191.8L174.8 196.6L169.6 196.6Z" fill="#2E5A1C" stroke="#2E5A1C" stroke-width="1.0" stroke-linejoin="miter"/>
<path d="M184.0 183.6L186.6 188.5L181.4 188.5Z" fill="#2E5A1C" stroke="#2E5A1C" stroke-width="1.0" stroke-linejoin="miter"/>
<path d="M195.7 188.1L198.3 193.0L193.1 193.0Z" fill="#2E5A1C" stroke="#2E5A1C" stroke-width="1.0" stroke-linejoin="miter"/>
<path d="M207.5 188.8L210.1 193.6L204.9 193.6Z" fill="#2E5A1C" stroke="#2E5A1C" stroke-width="1.0" stroke-linejoin="miter"/>
<path d="M219.3 189.7L221.9 194.5L216.7 194.5Z" fill="#2E5A1C" stroke="#2E5A1C" stroke-width="1.0" stroke-linejoin="miter"/>
<path d="M231.0 190.9L233.6 195.7L228.4 195.7Z" fill="#2E5A1C" stroke="#2E5A1C" stroke-width="1.0" stroke-linejoin="miter"/>
<path d="M242.8 193.3L245.4 198.1L240.2 198.1Z" fill="#2E5A1C" stroke="#2E5A1C" stroke-width="1.0" stroke-linejoin="miter"/>
<path d="M254.5 187.5L257.1 192.4L251.9 192.4Z" fill="#2E5A1C" stroke="#2E5A1C" stroke-width="1.0" stroke-linejoin="miter"/>
<path d="M266.3 192.0L268.9 196.9L263.7 196.9Z" fill="#2E5A1C" stroke="#2E5A1C" stroke-width="1.0" stroke-linejoin="miter"/>
<path d="M278.1 197.2L280.7 202.1L275.5 202.1Z" fill="#2E5A1C" stroke="#2E5A1C" stroke-width="1.0" stroke-linejoin="miter"/>
<path d="M289.8 193.7L292.4 198.5L287.2 198.5Z" fill="#2E5A1C" stroke="#2E5A1C" stroke-width="1.0" stroke-linejoin="miter"/>
<path d="M301.6 197.1L304.2 202.0L299.0 202.0Z" fill="#2E5A1C" stroke="#2E5A1C" stroke-width="1.0" stroke-linejoin="miter"/>
<path d="M313.4 197.3L316.0 202.2L310.8 202.2Z" fill="#2E5A1C" stroke="#2E5A1C" stroke-width="1.0" stroke-linejoin="miter"/>
<path d="M325.1 198.9L327.7 203.8L322.5 203.8Z" fill="#2E5A1C" stroke="#2E5A1C" stroke-width="1.0" stroke-linejoin="miter"/>
<path d="M336.9 198.9L339.5 203.8L334.3 203.8Z" fill="#2E5A1C" stroke="#2E5A1C" stroke-width="1.0" stroke-linejoin="miter"/>
<path d="M348.6 201.2L351.2 206.1L346.0 206.1Z" fill="#2E5A1C" stroke="#2E5A1C" stroke-width="1.0" stroke-linejoin="miter"/>
<path d="M360.4 202.7L363.0 207.5L357.8 207.5Z" fill="#2E5A1C" stroke="#2E5A1C" stroke-width="1.0" stroke-linejoin="miter"/>
<path d="M372.2 205.7L374.8 210.6L369.6 210.6Z" fill="#2E5A1C" stroke="#2E5A1C" stroke-width="1.0" stroke-linejoin="miter"/>
<path d="M383.9 200.0L386.5 204.8L381.3 204.8Z" fill="#2E5A1C" stroke="#2E5A1C" stroke-width="1.0" stroke-linejoin="miter"/>
<path d="M395.7 204.2L398.3 209.0L393.1 209.0Z" fill="#2E5A1C" stroke="#2E5A1C" stroke-width="1.0" stroke-linejoin="miter"/>
<path d="M407.4 206.2L410.0 211.1L404.8 211.1Z" fill="#2E5A1C" stroke="#2E5A1C" stroke-width="1.0" stroke-linejoin="miter"/>
<path d="M419.2 204.4L421.8 209.2L416.6 209.2Z" fill="#2E5A1C" stroke="#2E5A1C" stroke-width="1.0" stroke-linejoin="miter"/>
<path d="M431.0 204.0L433.6 208.9L428.4 208.9Z" fill="#2E5A1C" stroke="#2E5A1C" stroke-width="1.0" stroke-linejoin="miter"/>
<path d="M442.7 204.7L445.3 209.5L440.1 209.5Z" fill="#2E5A1C" stroke="#2E5A1C" stroke-width="1.0" stroke-linejoin="miter"/>
<path d="M454.5 205.6L457.1 210.5L451.9 210.5Z" fill="#2E5A1C" stroke="#2E5A1C" stroke-width="1.0" stroke-linejoin="miter"/>
<path d="M466.2 208.1L468.8 213.0L463.6 213.0Z" fill="#2E5A1C" stroke="#2E5A1C" stroke-width="1.0" stroke-linejoin="miter"/>
<path d="M478.0 205.8L480.6 210.7L475.4 210.7Z" fill="#2E5A1C" stroke="#2E5A1C" stroke-width="1.0" stroke-linejoin="miter"/>
<path d="M489.8 205.1L492.4 209.9L487.2 209.9Z" fill="#2E5A1C" stroke="#2E5A1C" stroke-width="1.0" stroke-linejoin="miter"/>
<path d="M501.5 209.0L504.1 213.8L498.9 213.8Z" fill="#2E5A1C" stroke="#2E5A1C" stroke-width="1.0" stroke-linejoin="miter"/>
<polyline points="66.4,185.7 78.1,188.7 89.9,184.1 101.7,182.6 113.4,177.4 125.2,171.1 136.9,174.3 148.7,175.9 160.5,166.8 172.2,167.7 184.0,159.2 195.7,164.9 207.5,167.6 219.3,169.9 231.0,175.6 242.8,174.4 254.5,163.1 266.3,170.6 278.1,167.4 289.8,166.6 301.6,175.0 313.4,182.0 325.1,182.0 336.9,177.5 348.6,184.7 360.4,184.0 372.2,188.1 383.9,187.0 395.7,193.8 407.4,193.7 419.2,188.0 431.0,195.9 442.7,195.0 454.5,198.9 466.2,201.1 478.0,198.4 489.8,198.2 501.5,201.1" fill="none" stroke="#24426E" stroke-width="1.9" stroke-linejoin="round"/>
<rect x="64.1" y="183.4" width="4.6" height="4.6" fill="#fff" stroke="#24426E" stroke-width="1.0"/>
<rect x="75.8" y="186.4" width="4.6" height="4.6" fill="#fff" stroke="#24426E" stroke-width="1.0"/>
<rect x="87.6" y="181.8" width="4.6" height="4.6" fill="#fff" stroke="#24426E" stroke-width="1.0"/>
<rect x="99.4" y="180.3" width="4.6" height="4.6" fill="#fff" stroke="#24426E" stroke-width="1.0"/>
<rect x="111.1" y="175.1" width="4.6" height="4.6" fill="#fff" stroke="#24426E" stroke-width="1.0"/>
<rect x="122.9" y="168.8" width="4.6" height="4.6" fill="#fff" stroke="#24426E" stroke-width="1.0"/>
<rect x="134.6" y="172.0" width="4.6" height="4.6" fill="#fff" stroke="#24426E" stroke-width="1.0"/>
<rect x="146.4" y="173.6" width="4.6" height="4.6" fill="#fff" stroke="#24426E" stroke-width="1.0"/>
<rect x="158.2" y="164.5" width="4.6" height="4.6" fill="#fff" stroke="#24426E" stroke-width="1.0"/>
<rect x="169.9" y="165.4" width="4.6" height="4.6" fill="#fff" stroke="#24426E" stroke-width="1.0"/>
<rect x="181.7" y="156.9" width="4.6" height="4.6" fill="#fff" stroke="#24426E" stroke-width="1.0"/>
<rect x="193.4" y="162.6" width="4.6" height="4.6" fill="#fff" stroke="#24426E" stroke-width="1.0"/>
<rect x="205.2" y="165.3" width="4.6" height="4.6" fill="#fff" stroke="#24426E" stroke-width="1.0"/>
<rect x="217.0" y="167.6" width="4.6" height="4.6" fill="#fff" stroke="#24426E" stroke-width="1.0"/>
<rect x="228.7" y="173.3" width="4.6" height="4.6" fill="#fff" stroke="#24426E" stroke-width="1.0"/>
<rect x="240.5" y="172.1" width="4.6" height="4.6" fill="#fff" stroke="#24426E" stroke-width="1.0"/>
<rect x="252.2" y="160.8" width="4.6" height="4.6" fill="#fff" stroke="#24426E" stroke-width="1.0"/>
<rect x="264.0" y="168.3" width="4.6" height="4.6" fill="#fff" stroke="#24426E" stroke-width="1.0"/>
<rect x="275.8" y="165.1" width="4.6" height="4.6" fill="#fff" stroke="#24426E" stroke-width="1.0"/>
<rect x="287.5" y="164.3" width="4.6" height="4.6" fill="#fff" stroke="#24426E" stroke-width="1.0"/>
<rect x="299.3" y="172.7" width="4.6" height="4.6" fill="#fff" stroke="#24426E" stroke-width="1.0"/>
<rect x="311.1" y="179.7" width="4.6" height="4.6" fill="#fff" stroke="#24426E" stroke-width="1.0"/>
<rect x="322.8" y="179.7" width="4.6" height="4.6" fill="#fff" stroke="#24426E" stroke-width="1.0"/>
<rect x="334.6" y="175.2" width="4.6" height="4.6" fill="#fff" stroke="#24426E" stroke-width="1.0"/>
<rect x="346.3" y="182.4" width="4.6" height="4.6" fill="#fff" stroke="#24426E" stroke-width="1.0"/>
<rect x="358.1" y="181.7" width="4.6" height="4.6" fill="#fff" stroke="#24426E" stroke-width="1.0"/>
<rect x="369.9" y="185.8" width="4.6" height="4.6" fill="#fff" stroke="#24426E" stroke-width="1.0"/>
<rect x="381.6" y="184.7" width="4.6" height="4.6" fill="#fff" stroke="#24426E" stroke-width="1.0"/>
<rect x="393.4" y="191.5" width="4.6" height="4.6" fill="#fff" stroke="#24426E" stroke-width="1.0"/>
<rect x="405.1" y="191.4" width="4.6" height="4.6" fill="#fff" stroke="#24426E" stroke-width="1.0"/>
<rect x="416.9" y="185.7" width="4.6" height="4.6" fill="#fff" stroke="#24426E" stroke-width="1.0"/>
<rect x="428.7" y="193.6" width="4.6" height="4.6" fill="#fff" stroke="#24426E" stroke-width="1.0"/>
<rect x="440.4" y="192.7" width="4.6" height="4.6" fill="#fff" stroke="#24426E" stroke-width="1.0"/>
<rect x="452.2" y="196.6" width="4.6" height="4.6" fill="#fff" stroke="#24426E" stroke-width="1.0"/>
<rect x="463.9" y="198.8" width="4.6" height="4.6" fill="#fff" stroke="#24426E" stroke-width="1.0"/>
<rect x="475.7" y="196.1" width="4.6" height="4.6" fill="#fff" stroke="#24426E" stroke-width="1.0"/>
<rect x="487.5" y="195.9" width="4.6" height="4.6" fill="#fff" stroke="#24426E" stroke-width="1.0"/>
<rect x="499.2" y="198.8" width="4.6" height="4.6" fill="#fff" stroke="#24426E" stroke-width="1.0"/>
<polyline points="66.4,168.2 78.1,176.4 89.9,169.6 101.7,168.2 113.4,153.0 125.2,139.2 136.9,141.5 148.7,148.7 160.5,130.6 172.2,120.9 184.0,118.5 195.7,124.8 207.5,131.4 219.3,118.0 231.0,124.6 242.8,126.4 254.5,115.1 266.3,129.1 278.1,126.4 289.8,127.2 301.6,122.4 313.4,145.1 325.1,143.5 336.9,142.8 348.6,152.3 360.4,141.0 372.2,160.3 383.9,158.0 395.7,167.0 407.4,162.4 419.2,166.7 431.0,166.0 442.7,160.7 454.5,172.4 466.2,181.9 478.0,180.1 489.8,181.9 501.5,181.9" fill="none" stroke="#8E4418" stroke-width="1.9" stroke-linejoin="round"/>
<circle cx="66.4" cy="168.2" r="2.4" fill="#fff" stroke="#8E4418" stroke-width="1.0"/>
<circle cx="78.1" cy="176.4" r="2.4" fill="#fff" stroke="#8E4418" stroke-width="1.0"/>
<circle cx="89.9" cy="169.6" r="2.4" fill="#fff" stroke="#8E4418" stroke-width="1.0"/>
<circle cx="101.7" cy="168.2" r="2.4" fill="#fff" stroke="#8E4418" stroke-width="1.0"/>
<circle cx="113.4" cy="153.0" r="2.4" fill="#fff" stroke="#8E4418" stroke-width="1.0"/>
<circle cx="125.2" cy="139.2" r="2.4" fill="#fff" stroke="#8E4418" stroke-width="1.0"/>
<circle cx="136.9" cy="141.5" r="2.4" fill="#fff" stroke="#8E4418" stroke-width="1.0"/>
<circle cx="148.7" cy="148.7" r="2.4" fill="#fff" stroke="#8E4418" stroke-width="1.0"/>
<circle cx="160.5" cy="130.6" r="2.4" fill="#fff" stroke="#8E4418" stroke-width="1.0"/>
<circle cx="172.2" cy="120.9" r="2.4" fill="#fff" stroke="#8E4418" stroke-width="1.0"/>
<circle cx="184.0" cy="118.5" r="2.4" fill="#fff" stroke="#8E4418" stroke-width="1.0"/>
<circle cx="195.7" cy="124.8" r="2.4" fill="#fff" stroke="#8E4418" stroke-width="1.0"/>
<circle cx="207.5" cy="131.4" r="2.4" fill="#fff" stroke="#8E4418" stroke-width="1.0"/>
<circle cx="219.3" cy="118.0" r="2.4" fill="#fff" stroke="#8E4418" stroke-width="1.0"/>
<circle cx="231.0" cy="124.6" r="2.4" fill="#fff" stroke="#8E4418" stroke-width="1.0"/>
<circle cx="242.8" cy="126.4" r="2.4" fill="#fff" stroke="#8E4418" stroke-width="1.0"/>
<circle cx="254.5" cy="115.1" r="2.4" fill="#fff" stroke="#8E4418" stroke-width="1.0"/>
<circle cx="266.3" cy="129.1" r="2.4" fill="#fff" stroke="#8E4418" stroke-width="1.0"/>
<circle cx="278.1" cy="126.4" r="2.4" fill="#fff" stroke="#8E4418" stroke-width="1.0"/>
<circle cx="289.8" cy="127.2" r="2.4" fill="#fff" stroke="#8E4418" stroke-width="1.0"/>
<circle cx="301.6" cy="122.4" r="2.4" fill="#fff" stroke="#8E4418" stroke-width="1.0"/>
<circle cx="313.4" cy="145.1" r="2.4" fill="#fff" stroke="#8E4418" stroke-width="1.0"/>
<circle cx="325.1" cy="143.5" r="2.4" fill="#fff" stroke="#8E4418" stroke-width="1.0"/>
<circle cx="336.9" cy="142.8" r="2.4" fill="#fff" stroke="#8E4418" stroke-width="1.0"/>
<circle cx="348.6" cy="152.3" r="2.4" fill="#fff" stroke="#8E4418" stroke-width="1.0"/>
<circle cx="360.4" cy="141.0" r="2.4" fill="#fff" stroke="#8E4418" stroke-width="1.0"/>
<circle cx="372.2" cy="160.3" r="2.4" fill="#fff" stroke="#8E4418" stroke-width="1.0"/>
<circle cx="383.9" cy="158.0" r="2.4" fill="#fff" stroke="#8E4418" stroke-width="1.0"/>
<circle cx="395.7" cy="167.0" r="2.4" fill="#fff" stroke="#8E4418" stroke-width="1.0"/>
<circle cx="407.4" cy="162.4" r="2.4" fill="#fff" stroke="#8E4418" stroke-width="1.0"/>
<circle cx="419.2" cy="166.7" r="2.4" fill="#fff" stroke="#8E4418" stroke-width="1.0"/>
<circle cx="431.0" cy="166.0" r="2.4" fill="#fff" stroke="#8E4418" stroke-width="1.0"/>
<circle cx="442.7" cy="160.7" r="2.4" fill="#fff" stroke="#8E4418" stroke-width="1.0"/>
<circle cx="454.5" cy="172.4" r="2.4" fill="#fff" stroke="#8E4418" stroke-width="1.0"/>
<circle cx="466.2" cy="181.9" r="2.4" fill="#fff" stroke="#8E4418" stroke-width="1.0"/>
<circle cx="478.0" cy="180.1" r="2.4" fill="#fff" stroke="#8E4418" stroke-width="1.0"/>
<circle cx="489.8" cy="181.9" r="2.4" fill="#fff" stroke="#8E4418" stroke-width="1.0"/>
<circle cx="501.5" cy="181.9" r="2.4" fill="#fff" stroke="#8E4418" stroke-width="1.0"/>
<polyline points="66.4,146.7 78.1,143.8 89.9,150.6 101.7,126.8 113.4,101.9 125.2,71.8 136.9,81.5 148.7,91.7 160.5,72.9 172.2,62.5 184.0,68.2 195.7,33.7 207.5,61.9 219.3,73.7 231.0,45.4 242.8,42.7 254.5,30.2 266.3,37.0 278.1,41.3 289.8,53.3 301.6,52.8 313.4,72.1 325.1,60.1 336.9,64.1 348.6,66.9 360.4,52.8 372.2,74.8 383.9,85.0 395.7,86.5 407.4,82.4 419.2,83.3 431.0,73.1 442.7,81.2 454.5,103.9 466.2,115.2 478.0,99.4 489.8,115.7 501.5,121.8" fill="none" stroke="#7A7A7A" stroke-width="1.9" stroke-linejoin="round"/>
<path d="M66.4 143.9L69.0 148.7L63.8 148.7Z" fill="#fff" stroke="#7A7A7A" stroke-width="1.0" stroke-linejoin="miter"/>
<path d="M78.1 141.0L80.7 145.9L75.5 145.9Z" fill="#fff" stroke="#7A7A7A" stroke-width="1.0" stroke-linejoin="miter"/>
<path d="M89.9 147.8L92.5 152.7L87.3 152.7Z" fill="#fff" stroke="#7A7A7A" stroke-width="1.0" stroke-linejoin="miter"/>
<path d="M101.7 124.0L104.3 128.8L99.1 128.8Z" fill="#fff" stroke="#7A7A7A" stroke-width="1.0" stroke-linejoin="miter"/>
<path d="M113.4 99.1L116.0 103.9L110.8 103.9Z" fill="#fff" stroke="#7A7A7A" stroke-width="1.0" stroke-linejoin="miter"/>
<path d="M125.2 69.0L127.8 73.9L122.6 73.9Z" fill="#fff" stroke="#7A7A7A" stroke-width="1.0" stroke-linejoin="miter"/>
<path d="M136.9 78.7L139.5 83.5L134.3 83.5Z" fill="#fff" stroke="#7A7A7A" stroke-width="1.0" stroke-linejoin="miter"/>
<path d="M148.7 88.9L151.3 93.8L146.1 93.8Z" fill="#fff" stroke="#7A7A7A" stroke-width="1.0" stroke-linejoin="miter"/>
<path d="M160.5 70.1L163.1 74.9L157.9 74.9Z" fill="#fff" stroke="#7A7A7A" stroke-width="1.0" stroke-linejoin="miter"/>
<path d="M172.2 59.7L174.8 64.6L169.6 64.6Z" fill="#fff" stroke="#7A7A7A" stroke-width="1.0" stroke-linejoin="miter"/>
<path d="M184.0 65.4L186.6 70.2L181.4 70.2Z" fill="#fff" stroke="#7A7A7A" stroke-width="1.0" stroke-linejoin="miter"/>
<path d="M195.7 30.9L198.3 35.7L193.1 35.7Z" fill="#fff" stroke="#7A7A7A" stroke-width="1.0" stroke-linejoin="miter"/>
<path d="M207.5 59.1L210.1 63.9L204.9 63.9Z" fill="#fff" stroke="#7A7A7A" stroke-width="1.0" stroke-linejoin="miter"/>
<path d="M219.3 70.9L221.9 75.8L216.7 75.8Z" fill="#fff" stroke="#7A7A7A" stroke-width="1.0" stroke-linejoin="miter"/>
<path d="M231.0 42.6L233.6 47.4L228.4 47.4Z" fill="#fff" stroke="#7A7A7A" stroke-width="1.0" stroke-linejoin="miter"/>
<path d="M242.8 39.9L245.4 44.7L240.2 44.7Z" fill="#fff" stroke="#7A7A7A" stroke-width="1.0" stroke-linejoin="miter"/>
<path d="M254.5 27.4L257.1 32.2L251.9 32.2Z" fill="#fff" stroke="#7A7A7A" stroke-width="1.0" stroke-linejoin="miter"/>
<path d="M266.3 34.2L268.9 39.0L263.7 39.0Z" fill="#fff" stroke="#7A7A7A" stroke-width="1.0" stroke-linejoin="miter"/>
<path d="M278.1 38.5L280.7 43.3L275.5 43.3Z" fill="#fff" stroke="#7A7A7A" stroke-width="1.0" stroke-linejoin="miter"/>
<path d="M289.8 50.5L292.4 55.4L287.2 55.4Z" fill="#fff" stroke="#7A7A7A" stroke-width="1.0" stroke-linejoin="miter"/>
<path d="M301.6 50.0L304.2 54.8L299.0 54.8Z" fill="#fff" stroke="#7A7A7A" stroke-width="1.0" stroke-linejoin="miter"/>
<path d="M313.4 69.3L316.0 74.1L310.8 74.1Z" fill="#fff" stroke="#7A7A7A" stroke-width="1.0" stroke-linejoin="miter"/>
<path d="M325.1 57.3L327.7 62.2L322.5 62.2Z" fill="#fff" stroke="#7A7A7A" stroke-width="1.0" stroke-linejoin="miter"/>
<path d="M336.9 61.3L339.5 66.1L334.3 66.1Z" fill="#fff" stroke="#7A7A7A" stroke-width="1.0" stroke-linejoin="miter"/>
<path d="M348.6 64.1L351.2 69.0L346.0 69.0Z" fill="#fff" stroke="#7A7A7A" stroke-width="1.0" stroke-linejoin="miter"/>
<path d="M360.4 50.0L363.0 54.8L357.8 54.8Z" fill="#fff" stroke="#7A7A7A" stroke-width="1.0" stroke-linejoin="miter"/>
<path d="M372.2 72.0L374.8 76.8L369.6 76.8Z" fill="#fff" stroke="#7A7A7A" stroke-width="1.0" stroke-linejoin="miter"/>
<path d="M383.9 82.2L386.5 87.1L381.3 87.1Z" fill="#fff" stroke="#7A7A7A" stroke-width="1.0" stroke-linejoin="miter"/>
<path d="M395.7 83.7L398.3 88.5L393.1 88.5Z" fill="#fff" stroke="#7A7A7A" stroke-width="1.0" stroke-linejoin="miter"/>
<path d="M407.4 79.6L410.0 84.5L404.8 84.5Z" fill="#fff" stroke="#7A7A7A" stroke-width="1.0" stroke-linejoin="miter"/>
<path d="M419.2 80.5L421.8 85.3L416.6 85.3Z" fill="#fff" stroke="#7A7A7A" stroke-width="1.0" stroke-linejoin="miter"/>
<path d="M431.0 70.3L433.6 75.1L428.4 75.1Z" fill="#fff" stroke="#7A7A7A" stroke-width="1.0" stroke-linejoin="miter"/>
<path d="M442.7 78.4L445.3 83.2L440.1 83.2Z" fill="#fff" stroke="#7A7A7A" stroke-width="1.0" stroke-linejoin="miter"/>
<path d="M454.5 101.1L457.1 105.9L451.9 105.9Z" fill="#fff" stroke="#7A7A7A" stroke-width="1.0" stroke-linejoin="miter"/>
<path d="M466.2 112.4L468.8 117.2L463.6 117.2Z" fill="#fff" stroke="#7A7A7A" stroke-width="1.0" stroke-linejoin="miter"/>
<path d="M478.0 96.6L480.6 101.4L475.4 101.4Z" fill="#fff" stroke="#7A7A7A" stroke-width="1.0" stroke-linejoin="miter"/>
<path d="M489.8 112.9L492.4 117.7L487.2 117.7Z" fill="#fff" stroke="#7A7A7A" stroke-width="1.0" stroke-linejoin="miter"/>
<path d="M501.5 119.0L504.1 123.8L498.9 123.8Z" fill="#fff" stroke="#7A7A7A" stroke-width="1.0" stroke-linejoin="miter"/>
<line x1="60.5" y1="450.7" x2="507.4" y2="450.7" stroke="#7a7a7a" stroke-width="1.1" stroke-dasharray="2 1.2"/>
<line x1="60.5" y1="421.0" x2="507.4" y2="421.0" stroke="#7a7a7a" stroke-width="1.1" stroke-dasharray="2 1.2"/>
<line x1="60.5" y1="391.3" x2="507.4" y2="391.3" stroke="#7a7a7a" stroke-width="1.1" stroke-dasharray="2 1.2"/>
<line x1="60.5" y1="361.7" x2="507.4" y2="361.7" stroke="#7a7a7a" stroke-width="1.1" stroke-dasharray="2 1.2"/>
<line x1="60.5" y1="332.0" x2="507.4" y2="332.0" stroke="#7a7a7a" stroke-width="1.1" stroke-dasharray="2 1.2"/>
<line x1="60.5" y1="302.3" x2="507.4" y2="302.3" stroke="#7a7a7a" stroke-width="1.1" stroke-dasharray="2 1.2"/>
<path d="M60.5 272.6H507.4V480.4" fill="none" stroke="#999" stroke-width="1"/>
<line x1="57.0" y1="480.4" x2="60.5" y2="480.4" stroke="#333" stroke-width="1"/>
<text x="50" y="484.0" text-anchor="end" class="yl">0</text>
<line x1="57.0" y1="450.7" x2="60.5" y2="450.7" stroke="#333" stroke-width="1"/>
<text x="50" y="454.3" text-anchor="end" class="yl">100</text>
<line x1="57.0" y1="421.0" x2="60.5" y2="421.0" stroke="#333" stroke-width="1"/>
<text x="50" y="424.6" text-anchor="end" class="yl">200</text>
<line x1="57.0" y1="391.3" x2="60.5" y2="391.3" stroke="#333" stroke-width="1"/>
<text x="50" y="394.9" text-anchor="end" class="yl">300</text>
<line x1="57.0" y1="361.7" x2="60.5" y2="361.7" stroke="#333" stroke-width="1"/>
<text x="50" y="365.3" text-anchor="end" class="yl">400</text>
<line x1="57.0" y1="332.0" x2="60.5" y2="332.0" stroke="#333" stroke-width="1"/>
<text x="50" y="335.6" text-anchor="end" class="yl">500</text>
<line x1="57.0" y1="302.3" x2="60.5" y2="302.3" stroke="#333" stroke-width="1"/>
<text x="50" y="305.9" text-anchor="end" class="yl">600</text>
<line x1="57.0" y1="272.6" x2="60.5" y2="272.6" stroke="#333" stroke-width="1"/>
<text x="50" y="276.2" text-anchor="end" class="yl">700</text>
<line x1="60.5" y1="480.4" x2="60.5" y2="483.9" stroke="#333" stroke-width="1"/>
<line x1="72.3" y1="480.4" x2="72.3" y2="483.9" stroke="#333" stroke-width="1"/>
<line x1="84.0" y1="480.4" x2="84.0" y2="483.9" stroke="#333" stroke-width="1"/>
<line x1="95.8" y1="480.4" x2="95.8" y2="483.9" stroke="#333" stroke-width="1"/>
<line x1="107.5" y1="480.4" x2="107.5" y2="483.9" stroke="#333" stroke-width="1"/>
<line x1="119.3" y1="480.4" x2="119.3" y2="483.9" stroke="#333" stroke-width="1"/>
<line x1="131.1" y1="480.4" x2="131.1" y2="483.9" stroke="#333" stroke-width="1"/>
<line x1="142.8" y1="480.4" x2="142.8" y2="483.9" stroke="#333" stroke-width="1"/>
<line x1="154.6" y1="480.4" x2="154.6" y2="483.9" stroke="#333" stroke-width="1"/>
<line x1="166.3" y1="480.4" x2="166.3" y2="483.9" stroke="#333" stroke-width="1"/>
<line x1="178.1" y1="480.4" x2="178.1" y2="483.9" stroke="#333" stroke-width="1"/>
<line x1="189.9" y1="480.4" x2="189.9" y2="483.9" stroke="#333" stroke-width="1"/>
<line x1="201.6" y1="480.4" x2="201.6" y2="483.9" stroke="#333" stroke-width="1"/>
<line x1="213.4" y1="480.4" x2="213.4" y2="483.9" stroke="#333" stroke-width="1"/>
<line x1="225.1" y1="480.4" x2="225.1" y2="483.9" stroke="#333" stroke-width="1"/>
<line x1="236.9" y1="480.4" x2="236.9" y2="483.9" stroke="#333" stroke-width="1"/>
<line x1="248.7" y1="480.4" x2="248.7" y2="483.9" stroke="#333" stroke-width="1"/>
<line x1="260.4" y1="480.4" x2="260.4" y2="483.9" stroke="#333" stroke-width="1"/>
<line x1="272.2" y1="480.4" x2="272.2" y2="483.9" stroke="#333" stroke-width="1"/>
<line x1="283.9" y1="480.4" x2="283.9" y2="483.9" stroke="#333" stroke-width="1"/>
<line x1="295.7" y1="480.4" x2="295.7" y2="483.9" stroke="#333" stroke-width="1"/>
<line x1="307.5" y1="480.4" x2="307.5" y2="483.9" stroke="#333" stroke-width="1"/>
<line x1="319.2" y1="480.4" x2="319.2" y2="483.9" stroke="#333" stroke-width="1"/>
<line x1="331.0" y1="480.4" x2="331.0" y2="483.9" stroke="#333" stroke-width="1"/>
<line x1="342.8" y1="480.4" x2="342.8" y2="483.9" stroke="#333" stroke-width="1"/>
<line x1="354.5" y1="480.4" x2="354.5" y2="483.9" stroke="#333" stroke-width="1"/>
<line x1="366.3" y1="480.4" x2="366.3" y2="483.9" stroke="#333" stroke-width="1"/>
<line x1="378.0" y1="480.4" x2="378.0" y2="483.9" stroke="#333" stroke-width="1"/>
<line x1="389.8" y1="480.4" x2="389.8" y2="483.9" stroke="#333" stroke-width="1"/>
<line x1="401.6" y1="480.4" x2="401.6" y2="483.9" stroke="#333" stroke-width="1"/>
<line x1="413.3" y1="480.4" x2="413.3" y2="483.9" stroke="#333" stroke-width="1"/>
<line x1="425.1" y1="480.4" x2="425.1" y2="483.9" stroke="#333" stroke-width="1"/>
<line x1="436.8" y1="480.4" x2="436.8" y2="483.9" stroke="#333" stroke-width="1"/>
<line x1="448.6" y1="480.4" x2="448.6" y2="483.9" stroke="#333" stroke-width="1"/>
<line x1="460.4" y1="480.4" x2="460.4" y2="483.9" stroke="#333" stroke-width="1"/>
<line x1="472.1" y1="480.4" x2="472.1" y2="483.9" stroke="#333" stroke-width="1"/>
<line x1="483.9" y1="480.4" x2="483.9" y2="483.9" stroke="#333" stroke-width="1"/>
<line x1="495.6" y1="480.4" x2="495.6" y2="483.9" stroke="#333" stroke-width="1"/>
<line x1="507.4" y1="480.4" x2="507.4" y2="483.9" stroke="#333" stroke-width="1"/>
<text transform="translate(71.0,487.9) rotate(-90)" text-anchor="end" class="xl">1980</text>
<text transform="translate(94.5,487.9) rotate(-90)" text-anchor="end" class="xl">1982</text>
<text transform="translate(118.0,487.9) rotate(-90)" text-anchor="end" class="xl">1984</text>
<text transform="translate(141.5,487.9) rotate(-90)" text-anchor="end" class="xl">1986</text>
<text transform="translate(165.1,487.9) rotate(-90)" text-anchor="end" class="xl">1988</text>
<text transform="translate(188.6,487.9) rotate(-90)" text-anchor="end" class="xl">1990</text>
<text transform="translate(212.1,487.9) rotate(-90)" text-anchor="end" class="xl">1992</text>
<text transform="translate(235.6,487.9) rotate(-90)" text-anchor="end" class="xl">1994</text>
<text transform="translate(259.1,487.9) rotate(-90)" text-anchor="end" class="xl">1996</text>
<text transform="translate(282.7,487.9) rotate(-90)" text-anchor="end" class="xl">1998</text>
<text transform="translate(306.2,487.9) rotate(-90)" text-anchor="end" class="xl">2000</text>
<text transform="translate(329.7,487.9) rotate(-90)" text-anchor="end" class="xl">2002</text>
<text transform="translate(353.2,487.9) rotate(-90)" text-anchor="end" class="xl">2004</text>
<text transform="translate(376.8,487.9) rotate(-90)" text-anchor="end" class="xl">2006</text>
<text transform="translate(400.3,487.9) rotate(-90)" text-anchor="end" class="xl">2008</text>
<text transform="translate(423.8,487.9) rotate(-90)" text-anchor="end" class="xl">2010</text>
<text transform="translate(447.3,487.9) rotate(-90)" text-anchor="end" class="xl">2012</text>
<text transform="translate(470.8,487.9) rotate(-90)" text-anchor="end" class="xl">2014</text>
<text transform="translate(494.4,487.9) rotate(-90)" text-anchor="end" class="xl">2016</text>
<line x1="60.5" y1="272.6" x2="60.5" y2="480.4" stroke="#333" stroke-width="1.2"/>
<line x1="60.5" y1="480.4" x2="507.4" y2="480.4" stroke="#333" stroke-width="1.2"/>
<polyline points="66.4,480.1 78.1,480.1 89.9,480.1 101.7,480.1 113.4,480.1 125.2,480.1 136.9,480.1 148.7,480.1 160.5,480.1 172.2,480.1 184.0,480.1 195.7,480.1 207.5,480.1 219.3,480.1 231.0,480.1 242.8,480.1 254.5,480.1 266.3,480.1 278.1,480.1 289.8,480.1 301.6,480.1 313.4,480.1 325.1,480.1 336.9,480.1 348.6,480.1 360.4,480.1 372.2,480.1 383.9,480.1 395.7,480.1 407.4,480.1 419.2,480.1 431.0,480.1 442.7,480.1 454.5,480.1 466.2,480.1 478.0,480.1 489.8,480.1 501.5,480.1" fill="none" stroke="#5B9BD5" stroke-width="1.9" stroke-linejoin="round"/>
<path d="M66.4 477.5L69.0 480.1L66.4 482.7L63.8 480.1Z" fill="#5B9BD5" stroke="#5B9BD5" stroke-width="1.0"/>
<path d="M78.1 477.5L80.7 480.1L78.1 482.7L75.5 480.1Z" fill="#5B9BD5" stroke="#5B9BD5" stroke-width="1.0"/>
<path d="M89.9 477.5L92.5 480.1L89.9 482.7L87.3 480.1Z" fill="#5B9BD5" stroke="#5B9BD5" stroke-width="1.0"/>
<path d="M101.7 477.5L104.3 480.1L101.7 482.7L99.1 480.1Z" fill="#5B9BD5" stroke="#5B9BD5" stroke-width="1.0"/>
<path d="M113.4 477.5L116.0 480.1L113.4 482.7L110.8 480.1Z" fill="#5B9BD5" stroke="#5B9BD5" stroke-width="1.0"/>
<path d="M125.2 477.5L127.8 480.1L125.2 482.7L122.6 480.1Z" fill="#5B9BD5" stroke="#5B9BD5" stroke-width="1.0"/>
<path d="M136.9 477.5L139.5 480.1L136.9 482.7L134.3 480.1Z" fill="#5B9BD5" stroke="#5B9BD5" stroke-width="1.0"/>
<path d="M148.7 477.5L151.3 480.1L148.7 482.7L146.1 480.1Z" fill="#5B9BD5" stroke="#5B9BD5" stroke-width="1.0"/>
<path d="M160.5 477.5L163.1 480.1L160.5 482.7L157.9 480.1Z" fill="#5B9BD5" stroke="#5B9BD5" stroke-width="1.0"/>
<path d="M172.2 477.5L174.8 480.1L172.2 482.7L169.6 480.1Z" fill="#5B9BD5" stroke="#5B9BD5" stroke-width="1.0"/>
<path d="M184.0 477.5L186.6 480.1L184.0 482.7L181.4 480.1Z" fill="#5B9BD5" stroke="#5B9BD5" stroke-width="1.0"/>
<path d="M195.7 477.5L198.3 480.1L195.7 482.7L193.1 480.1Z" fill="#5B9BD5" stroke="#5B9BD5" stroke-width="1.0"/>
<path d="M207.5 477.5L210.1 480.1L207.5 482.7L204.9 480.1Z" fill="#5B9BD5" stroke="#5B9BD5" stroke-width="1.0"/>
<path d="M219.3 477.5L221.9 480.1L219.3 482.7L216.7 480.1Z" fill="#5B9BD5" stroke="#5B9BD5" stroke-width="1.0"/>
<path d="M231.0 477.5L233.6 480.1L231.0 482.7L228.4 480.1Z" fill="#5B9BD5" stroke="#5B9BD5" stroke-width="1.0"/>
<path d="M242.8 477.5L245.4 480.1L242.8 482.7L240.2 480.1Z" fill="#5B9BD5" stroke="#5B9BD5" stroke-width="1.0"/>
<path d="M254.5 477.5L257.1 480.1L254.5 482.7L251.9 480.1Z" fill="#5B9BD5" stroke="#5B9BD5" stroke-width="1.0"/>
<path d="M266.3 477.5L268.9 480.1L266.3 482.7L263.7 480.1Z" fill="#5B9BD5" stroke="#5B9BD5" stroke-width="1.0"/>
<path d="M278.1 477.5L280.7 480.1L278.1 482.7L275.5 480.1Z" fill="#5B9BD5" stroke="#5B9BD5" stroke-width="1.0"/>
<path d="M289.8 477.5L292.4 480.1L289.8 482.7L287.2 480.1Z" fill="#5B9BD5" stroke="#5B9BD5" stroke-width="1.0"/>
<path d="M301.6 477.5L304.2 480.1L301.6 482.7L299.0 480.1Z" fill="#5B9BD5" stroke="#5B9BD5" stroke-width="1.0"/>
<path d="M313.4 477.5L316.0 480.1L313.4 482.7L310.8 480.1Z" fill="#5B9BD5" stroke="#5B9BD5" stroke-width="1.0"/>
<path d="M325.1 477.5L327.7 480.1L325.1 482.7L322.5 480.1Z" fill="#5B9BD5" stroke="#5B9BD5" stroke-width="1.0"/>
<path d="M336.9 477.5L339.5 480.1L336.9 482.7L334.3 480.1Z" fill="#5B9BD5" stroke="#5B9BD5" stroke-width="1.0"/>
<path d="M348.6 477.5L351.2 480.1L348.6 482.7L346.0 480.1Z" fill="#5B9BD5" stroke="#5B9BD5" stroke-width="1.0"/>
<path d="M360.4 477.5L363.0 480.1L360.4 482.7L357.8 480.1Z" fill="#5B9BD5" stroke="#5B9BD5" stroke-width="1.0"/>
<path d="M372.2 477.5L374.8 480.1L372.2 482.7L369.6 480.1Z" fill="#5B9BD5" stroke="#5B9BD5" stroke-width="1.0"/>
<path d="M383.9 477.5L386.5 480.1L383.9 482.7L381.3 480.1Z" fill="#5B9BD5" stroke="#5B9BD5" stroke-width="1.0"/>
<path d="M395.7 477.5L398.3 480.1L395.7 482.7L393.1 480.1Z" fill="#5B9BD5" stroke="#5B9BD5" stroke-width="1.0"/>
<path d="M407.4 477.5L410.0 480.1L407.4 482.7L404.8 480.1Z" fill="#5B9BD5" stroke="#5B9BD5" stroke-width="1.0"/>
<path d="M419.2 477.5L421.8 480.1L419.2 482.7L416.6 480.1Z" fill="#5B9BD5" stroke="#5B9BD5" stroke-width="1.0"/>
<path d="M431.0 477.5L433.6 480.1L431.0 482.7L428.4 480.1Z" fill="#5B9BD5" stroke="#5B9BD5" stroke-width="1.0"/>
<path d="M442.7 477.5L445.3 480.1L442.7 482.7L440.1 480.1Z" fill="#5B9BD5" stroke="#5B9BD5" stroke-width="1.0"/>
<path d="M454.5 477.5L457.1 480.1L454.5 482.7L451.9 480.1Z" fill="#5B9BD5" stroke="#5B9BD5" stroke-width="1.0"/>
<path d="M466.2 477.5L468.8 480.1L466.2 482.7L463.6 480.1Z" fill="#5B9BD5" stroke="#5B9BD5" stroke-width="1.0"/>
<path d="M478.0 477.5L480.6 480.1L478.0 482.7L475.4 480.1Z" fill="#5B9BD5" stroke="#5B9BD5" stroke-width="1.0"/>
<path d="M489.8 477.5L492.4 480.1L489.8 482.7L487.2 480.1Z" fill="#5B9BD5" stroke="#5B9BD5" stroke-width="1.0"/>
<path d="M501.5 477.5L504.1 480.1L501.5 482.7L498.9 480.1Z" fill="#5B9BD5" stroke="#5B9BD5" stroke-width="1.0"/>
<polyline points="66.4,479.8 78.1,479.8 89.9,479.8 101.7,479.8 113.4,479.8 125.2,479.8 136.9,479.8 148.7,479.8 160.5,479.8 172.2,479.8 184.0,479.8 195.7,479.8 207.5,479.8 219.3,479.8 231.0,479.8 242.8,479.8 254.5,479.8 266.3,479.8 278.1,479.8 289.8,479.8 301.6,479.8 313.4,479.8 325.1,479.8 336.9,479.8 348.6,479.8 360.4,479.8 372.2,479.8 383.9,479.8 395.7,479.8 407.4,479.8 419.2,479.8 431.0,479.8 442.7,479.8 454.5,479.8 466.2,479.8 478.0,479.8 489.8,479.8 501.5,479.8" fill="none" stroke="#ED7D31" stroke-width="1.9" stroke-linejoin="round"/>
<rect x="64.4" y="477.8" width="4.0" height="4.0" fill="#ED7D31" stroke="#ED7D31" stroke-width="1.0"/>
<rect x="76.1" y="477.8" width="4.0" height="4.0" fill="#ED7D31" stroke="#ED7D31" stroke-width="1.0"/>
<rect x="87.9" y="477.8" width="4.0" height="4.0" fill="#ED7D31" stroke="#ED7D31" stroke-width="1.0"/>
<rect x="99.7" y="477.8" width="4.0" height="4.0" fill="#ED7D31" stroke="#ED7D31" stroke-width="1.0"/>
<rect x="111.4" y="477.8" width="4.0" height="4.0" fill="#ED7D31" stroke="#ED7D31" stroke-width="1.0"/>
<rect x="123.2" y="477.8" width="4.0" height="4.0" fill="#ED7D31" stroke="#ED7D31" stroke-width="1.0"/>
<rect x="134.9" y="477.8" width="4.0" height="4.0" fill="#ED7D31" stroke="#ED7D31" stroke-width="1.0"/>
<rect x="146.7" y="477.8" width="4.0" height="4.0" fill="#ED7D31" stroke="#ED7D31" stroke-width="1.0"/>
<rect x="158.5" y="477.8" width="4.0" height="4.0" fill="#ED7D31" stroke="#ED7D31" stroke-width="1.0"/>
<rect x="170.2" y="477.8" width="4.0" height="4.0" fill="#ED7D31" stroke="#ED7D31" stroke-width="1.0"/>
<rect x="182.0" y="477.8" width="4.0" height="4.0" fill="#ED7D31" stroke="#ED7D31" stroke-width="1.0"/>
<rect x="193.7" y="477.8" width="4.0" height="4.0" fill="#ED7D31" stroke="#ED7D31" stroke-width="1.0"/>
<rect x="205.5" y="477.8" width="4.0" height="4.0" fill="#ED7D31" stroke="#ED7D31" stroke-width="1.0"/>
<rect x="217.3" y="477.8" width="4.0" height="4.0" fill="#ED7D31" stroke="#ED7D31" stroke-width="1.0"/>
<rect x="229.0" y="477.8" width="4.0" height="4.0" fill="#ED7D31" stroke="#ED7D31" stroke-width="1.0"/>
<rect x="240.8" y="477.8" width="4.0" height="4.0" fill="#ED7D31" stroke="#ED7D31" stroke-width="1.0"/>
<rect x="252.5" y="477.8" width="4.0" height="4.0" fill="#ED7D31" stroke="#ED7D31" stroke-width="1.0"/>
<rect x="264.3" y="477.8" width="4.0" height="4.0" fill="#ED7D31" stroke="#ED7D31" stroke-width="1.0"/>
<rect x="276.1" y="477.8" width="4.0" height="4.0" fill="#ED7D31" stroke="#ED7D31" stroke-width="1.0"/>
<rect x="287.8" y="477.8" width="4.0" height="4.0" fill="#ED7D31" stroke="#ED7D31" stroke-width="1.0"/>
<rect x="299.6" y="477.8" width="4.0" height="4.0" fill="#ED7D31" stroke="#ED7D31" stroke-width="1.0"/>
<rect x="311.4" y="477.8" width="4.0" height="4.0" fill="#ED7D31" stroke="#ED7D31" stroke-width="1.0"/>
<rect x="323.1" y="477.8" width="4.0" height="4.0" fill="#ED7D31" stroke="#ED7D31" stroke-width="1.0"/>
<rect x="334.9" y="477.8" width="4.0" height="4.0" fill="#ED7D31" stroke="#ED7D31" stroke-width="1.0"/>
<rect x="346.6" y="477.8" width="4.0" height="4.0" fill="#ED7D31" stroke="#ED7D31" stroke-width="1.0"/>
<rect x="358.4" y="477.8" width="4.0" height="4.0" fill="#ED7D31" stroke="#ED7D31" stroke-width="1.0"/>
<rect x="370.2" y="477.8" width="4.0" height="4.0" fill="#ED7D31" stroke="#ED7D31" stroke-width="1.0"/>
<rect x="381.9" y="477.8" width="4.0" height="4.0" fill="#ED7D31" stroke="#ED7D31" stroke-width="1.0"/>
<rect x="393.7" y="477.8" width="4.0" height="4.0" fill="#ED7D31" stroke="#ED7D31" stroke-width="1.0"/>
<rect x="405.4" y="477.8" width="4.0" height="4.0" fill="#ED7D31" stroke="#ED7D31" stroke-width="1.0"/>
<rect x="417.2" y="477.8" width="4.0" height="4.0" fill="#ED7D31" stroke="#ED7D31" stroke-width="1.0"/>
<rect x="429.0" y="477.8" width="4.0" height="4.0" fill="#ED7D31" stroke="#ED7D31" stroke-width="1.0"/>
<rect x="440.7" y="477.8" width="4.0" height="4.0" fill="#ED7D31" stroke="#ED7D31" stroke-width="1.0"/>
<rect x="452.5" y="477.8" width="4.0" height="4.0" fill="#ED7D31" stroke="#ED7D31" stroke-width="1.0"/>
<rect x="464.2" y="477.8" width="4.0" height="4.0" fill="#ED7D31" stroke="#ED7D31" stroke-width="1.0"/>
<rect x="476.0" y="477.8" width="4.0" height="4.0" fill="#ED7D31" stroke="#ED7D31" stroke-width="1.0"/>
<rect x="487.8" y="477.8" width="4.0" height="4.0" fill="#ED7D31" stroke="#ED7D31" stroke-width="1.0"/>
<rect x="499.5" y="477.8" width="4.0" height="4.0" fill="#ED7D31" stroke="#ED7D31" stroke-width="1.0"/>
<polyline points="66.4,479.2 78.1,479.2 89.9,479.2 101.7,479.2 113.4,479.2 125.2,479.2 136.9,479.2 148.7,479.2 160.5,479.2 172.2,479.2 184.0,479.2 195.7,479.2 207.5,479.2 219.3,479.5 231.0,479.5 242.8,479.5 254.5,479.5 266.3,479.5 278.1,479.5 289.8,479.5 301.6,479.5 313.4,479.5 325.1,479.5 336.9,479.5 348.6,479.5 360.4,479.5 372.2,479.5 383.9,479.8 395.7,479.8 407.4,479.8 419.2,479.8 431.0,479.8 442.7,479.8 454.5,479.8 466.2,479.8 478.0,479.8 489.8,479.8 501.5,479.8" fill="none" stroke="#A5A5A5" stroke-width="1.9" stroke-linejoin="round"/>
<path d="M66.4 476.4L69.0 481.3L63.8 481.3Z" fill="#A5A5A5" stroke="#A5A5A5" stroke-width="1.0" stroke-linejoin="miter"/>
<path d="M78.1 476.4L80.7 481.3L75.5 481.3Z" fill="#A5A5A5" stroke="#A5A5A5" stroke-width="1.0" stroke-linejoin="miter"/>
<path d="M89.9 476.4L92.5 481.3L87.3 481.3Z" fill="#A5A5A5" stroke="#A5A5A5" stroke-width="1.0" stroke-linejoin="miter"/>
<path d="M101.7 476.4L104.3 481.3L99.1 481.3Z" fill="#A5A5A5" stroke="#A5A5A5" stroke-width="1.0" stroke-linejoin="miter"/>
<path d="M113.4 476.4L116.0 481.3L110.8 481.3Z" fill="#A5A5A5" stroke="#A5A5A5" stroke-width="1.0" stroke-linejoin="miter"/>
<path d="M125.2 476.4L127.8 481.3L122.6 481.3Z" fill="#A5A5A5" stroke="#A5A5A5" stroke-width="1.0" stroke-linejoin="miter"/>
<path d="M136.9 476.4L139.5 481.3L134.3 481.3Z" fill="#A5A5A5" stroke="#A5A5A5" stroke-width="1.0" stroke-linejoin="miter"/>
<path d="M148.7 476.4L151.3 481.3L146.1 481.3Z" fill="#A5A5A5" stroke="#A5A5A5" stroke-width="1.0" stroke-linejoin="miter"/>
<path d="M160.5 476.4L163.1 481.3L157.9 481.3Z" fill="#A5A5A5" stroke="#A5A5A5" stroke-width="1.0" stroke-linejoin="miter"/>
<path d="M172.2 476.4L174.8 481.3L169.6 481.3Z" fill="#A5A5A5" stroke="#A5A5A5" stroke-width="1.0" stroke-linejoin="miter"/>
<path d="M184.0 476.4L186.6 481.3L181.4 481.3Z" fill="#A5A5A5" stroke="#A5A5A5" stroke-width="1.0" stroke-linejoin="miter"/>
<path d="M195.7 476.4L198.3 481.3L193.1 481.3Z" fill="#A5A5A5" stroke="#A5A5A5" stroke-width="1.0" stroke-linejoin="miter"/>
<path d="M207.5 476.4L210.1 481.3L204.9 481.3Z" fill="#A5A5A5" stroke="#A5A5A5" stroke-width="1.0" stroke-linejoin="miter"/>
<path d="M219.3 476.7L221.9 481.5L216.7 481.5Z" fill="#A5A5A5" stroke="#A5A5A5" stroke-width="1.0" stroke-linejoin="miter"/>
<path d="M231.0 476.7L233.6 481.5L228.4 481.5Z" fill="#A5A5A5" stroke="#A5A5A5" stroke-width="1.0" stroke-linejoin="miter"/>
<path d="M242.8 476.7L245.4 481.5L240.2 481.5Z" fill="#A5A5A5" stroke="#A5A5A5" stroke-width="1.0" stroke-linejoin="miter"/>
<path d="M254.5 476.7L257.1 481.5L251.9 481.5Z" fill="#A5A5A5" stroke="#A5A5A5" stroke-width="1.0" stroke-linejoin="miter"/>
<path d="M266.3 476.7L268.9 481.5L263.7 481.5Z" fill="#A5A5A5" stroke="#A5A5A5" stroke-width="1.0" stroke-linejoin="miter"/>
<path d="M278.1 476.7L280.7 481.5L275.5 481.5Z" fill="#A5A5A5" stroke="#A5A5A5" stroke-width="1.0" stroke-linejoin="miter"/>
<path d="M289.8 476.7L292.4 481.5L287.2 481.5Z" fill="#A5A5A5" stroke="#A5A5A5" stroke-width="1.0" stroke-linejoin="miter"/>
<path d="M301.6 476.7L304.2 481.5L299.0 481.5Z" fill="#A5A5A5" stroke="#A5A5A5" stroke-width="1.0" stroke-linejoin="miter"/>
<path d="M313.4 476.7L316.0 481.5L310.8 481.5Z" fill="#A5A5A5" stroke="#A5A5A5" stroke-width="1.0" stroke-linejoin="miter"/>
<path d="M325.1 476.7L327.7 481.5L322.5 481.5Z" fill="#A5A5A5" stroke="#A5A5A5" stroke-width="1.0" stroke-linejoin="miter"/>
<path d="M336.9 476.7L339.5 481.5L334.3 481.5Z" fill="#A5A5A5" stroke="#A5A5A5" stroke-width="1.0" stroke-linejoin="miter"/>
<path d="M348.6 476.7L351.2 481.5L346.0 481.5Z" fill="#A5A5A5" stroke="#A5A5A5" stroke-width="1.0" stroke-linejoin="miter"/>
<path d="M360.4 476.7L363.0 481.5L357.8 481.5Z" fill="#A5A5A5" stroke="#A5A5A5" stroke-width="1.0" stroke-linejoin="miter"/>
<path d="M372.2 476.7L374.8 481.5L369.6 481.5Z" fill="#A5A5A5" stroke="#A5A5A5" stroke-width="1.0" stroke-linejoin="miter"/>
<path d="M383.9 477.0L386.5 481.8L381.3 481.8Z" fill="#A5A5A5" stroke="#A5A5A5" stroke-width="1.0" stroke-linejoin="miter"/>
<path d="M395.7 477.0L398.3 481.8L393.1 481.8Z" fill="#A5A5A5" stroke="#A5A5A5" stroke-width="1.0" stroke-linejoin="miter"/>
<path d="M407.4 477.0L410.0 481.8L404.8 481.8Z" fill="#A5A5A5" stroke="#A5A5A5" stroke-width="1.0" stroke-linejoin="miter"/>
<path d="M419.2 477.0L421.8 481.8L416.6 481.8Z" fill="#A5A5A5" stroke="#A5A5A5" stroke-width="1.0" stroke-linejoin="miter"/>
<path d="M431.0 477.0L433.6 481.8L428.4 481.8Z" fill="#A5A5A5" stroke="#A5A5A5" stroke-width="1.0" stroke-linejoin="miter"/>
<path d="M442.7 477.0L445.3 481.8L440.1 481.8Z" fill="#A5A5A5" stroke="#A5A5A5" stroke-width="1.0" stroke-linejoin="miter"/>
<path d="M454.5 477.0L457.1 481.8L451.9 481.8Z" fill="#A5A5A5" stroke="#A5A5A5" stroke-width="1.0" stroke-linejoin="miter"/>
<path d="M466.2 477.0L468.8 481.8L463.6 481.8Z" fill="#A5A5A5" stroke="#A5A5A5" stroke-width="1.0" stroke-linejoin="miter"/>
<path d="M478.0 477.0L480.6 481.8L475.4 481.8Z" fill="#A5A5A5" stroke="#A5A5A5" stroke-width="1.0" stroke-linejoin="miter"/>
<path d="M489.8 477.0L492.4 481.8L487.2 481.8Z" fill="#A5A5A5" stroke="#A5A5A5" stroke-width="1.0" stroke-linejoin="miter"/>
<path d="M501.5 477.0L504.1 481.8L498.9 481.8Z" fill="#A5A5A5" stroke="#A5A5A5" stroke-width="1.0" stroke-linejoin="miter"/>
<polyline points="66.4,477.4 78.1,478.0 89.9,477.4 101.7,477.7 113.4,477.4 125.2,478.0 136.9,477.7 148.7,478.0 160.5,477.4 172.2,478.0 184.0,477.7 195.7,477.7 207.5,478.0 219.3,478.0 231.0,477.7 242.8,478.0 254.5,478.0 266.3,478.0 278.1,478.3 289.8,478.3 301.6,478.6 313.4,478.6 325.1,478.6 336.9,478.6 348.6,478.9 360.4,478.9 372.2,478.9 383.9,478.9 395.7,478.9 407.4,479.2 419.2,479.2 431.0,479.2 442.7,479.2 454.5,479.2 466.2,479.2 478.0,479.2 489.8,479.2 501.5,479.2" fill="none" stroke="#F5B800" stroke-width="1.9" stroke-linejoin="round"/>
<rect x="64.4" y="475.4" width="4.0" height="4.0" fill="#F5B800" stroke="#F5B800" stroke-width="1.0"/>
<rect x="76.1" y="476.0" width="4.0" height="4.0" fill="#F5B800" stroke="#F5B800" stroke-width="1.0"/>
<rect x="87.9" y="475.4" width="4.0" height="4.0" fill="#F5B800" stroke="#F5B800" stroke-width="1.0"/>
<rect x="99.7" y="475.7" width="4.0" height="4.0" fill="#F5B800" stroke="#F5B800" stroke-width="1.0"/>
<rect x="111.4" y="475.4" width="4.0" height="4.0" fill="#F5B800" stroke="#F5B800" stroke-width="1.0"/>
<rect x="123.2" y="476.0" width="4.0" height="4.0" fill="#F5B800" stroke="#F5B800" stroke-width="1.0"/>
<rect x="134.9" y="475.7" width="4.0" height="4.0" fill="#F5B800" stroke="#F5B800" stroke-width="1.0"/>
<rect x="146.7" y="476.0" width="4.0" height="4.0" fill="#F5B800" stroke="#F5B800" stroke-width="1.0"/>
<rect x="158.5" y="475.4" width="4.0" height="4.0" fill="#F5B800" stroke="#F5B800" stroke-width="1.0"/>
<rect x="170.2" y="476.0" width="4.0" height="4.0" fill="#F5B800" stroke="#F5B800" stroke-width="1.0"/>
<rect x="182.0" y="475.7" width="4.0" height="4.0" fill="#F5B800" stroke="#F5B800" stroke-width="1.0"/>
<rect x="193.7" y="475.7" width="4.0" height="4.0" fill="#F5B800" stroke="#F5B800" stroke-width="1.0"/>
<rect x="205.5" y="476.0" width="4.0" height="4.0" fill="#F5B800" stroke="#F5B800" stroke-width="1.0"/>
<rect x="217.3" y="476.0" width="4.0" height="4.0" fill="#F5B800" stroke="#F5B800" stroke-width="1.0"/>
<rect x="229.0" y="475.7" width="4.0" height="4.0" fill="#F5B800" stroke="#F5B800" stroke-width="1.0"/>
<rect x="240.8" y="476.0" width="4.0" height="4.0" fill="#F5B800" stroke="#F5B800" stroke-width="1.0"/>
<rect x="252.5" y="476.0" width="4.0" height="4.0" fill="#F5B800" stroke="#F5B800" stroke-width="1.0"/>
<rect x="264.3" y="476.0" width="4.0" height="4.0" fill="#F5B800" stroke="#F5B800" stroke-width="1.0"/>
<rect x="276.1" y="476.3" width="4.0" height="4.0" fill="#F5B800" stroke="#F5B800" stroke-width="1.0"/>
<rect x="287.8" y="476.3" width="4.0" height="4.0" fill="#F5B800" stroke="#F5B800" stroke-width="1.0"/>
<rect x="299.6" y="476.6" width="4.0" height="4.0" fill="#F5B800" stroke="#F5B800" stroke-width="1.0"/>
<rect x="311.4" y="476.6" width="4.0" height="4.0" fill="#F5B800" stroke="#F5B800" stroke-width="1.0"/>
<rect x="323.1" y="476.6" width="4.0" height="4.0" fill="#F5B800" stroke="#F5B800" stroke-width="1.0"/>
<rect x="334.9" y="476.6" width="4.0" height="4.0" fill="#F5B800" stroke="#F5B800" stroke-width="1.0"/>
<rect x="346.6" y="476.9" width="4.0" height="4.0" fill="#F5B800" stroke="#F5B800" stroke-width="1.0"/>
<rect x="358.4" y="476.9" width="4.0" height="4.0" fill="#F5B800" stroke="#F5B800" stroke-width="1.0"/>
<rect x="370.2" y="476.9" width="4.0" height="4.0" fill="#F5B800" stroke="#F5B800" stroke-width="1.0"/>
<rect x="381.9" y="476.9" width="4.0" height="4.0" fill="#F5B800" stroke="#F5B800" stroke-width="1.0"/>
<rect x="393.7" y="476.9" width="4.0" height="4.0" fill="#F5B800" stroke="#F5B800" stroke-width="1.0"/>
<rect x="405.4" y="477.2" width="4.0" height="4.0" fill="#F5B800" stroke="#F5B800" stroke-width="1.0"/>
<rect x="417.2" y="477.2" width="4.0" height="4.0" fill="#F5B800" stroke="#F5B800" stroke-width="1.0"/>
<rect x="429.0" y="477.2" width="4.0" height="4.0" fill="#F5B800" stroke="#F5B800" stroke-width="1.0"/>
<rect x="440.7" y="477.2" width="4.0" height="4.0" fill="#F5B800" stroke="#F5B800" stroke-width="1.0"/>
<rect x="452.5" y="477.2" width="4.0" height="4.0" fill="#F5B800" stroke="#F5B800" stroke-width="1.0"/>
<rect x="464.2" y="477.2" width="4.0" height="4.0" fill="#F5B800" stroke="#F5B800" stroke-width="1.0"/>
<rect x="476.0" y="477.2" width="4.0" height="4.0" fill="#F5B800" stroke="#F5B800" stroke-width="1.0"/>
<rect x="487.8" y="477.2" width="4.0" height="4.0" fill="#F5B800" stroke="#F5B800" stroke-width="1.0"/>
<rect x="499.5" y="477.2" width="4.0" height="4.0" fill="#F5B800" stroke="#F5B800" stroke-width="1.0"/>
<polyline points="66.4,473.3 78.1,475.1 89.9,472.7 101.7,473.6 113.4,472.1 125.2,475.1 136.9,472.1 148.7,472.7 160.5,471.8 172.2,475.1 184.0,473.3 195.7,473.3 207.5,474.8 219.3,475.1 231.0,473.3 242.8,476.8 254.5,475.1 266.3,476.2 278.1,476.8 289.8,476.2 301.6,477.7 313.4,478.6 325.1,477.7 336.9,478.6 348.6,478.9 360.4,477.7 372.2,477.7 383.9,477.7 395.7,478.6 407.4,478.9 419.2,478.9 431.0,478.9 442.7,478.9 454.5,478.9 466.2,478.9 478.0,478.9 489.8,478.9 501.5,478.9" fill="none" stroke="#4472C4" stroke-width="1.9" stroke-linejoin="round"/>
<circle cx="66.4" cy="473.3" r="2.4" fill="#4472C4" stroke="#4472C4" stroke-width="1.0"/>
<circle cx="78.1" cy="475.1" r="2.4" fill="#4472C4" stroke="#4472C4" stroke-width="1.0"/>
<circle cx="89.9" cy="472.7" r="2.4" fill="#4472C4" stroke="#4472C4" stroke-width="1.0"/>
<circle cx="101.7" cy="473.6" r="2.4" fill="#4472C4" stroke="#4472C4" stroke-width="1.0"/>
<circle cx="113.4" cy="472.1" r="2.4" fill="#4472C4" stroke="#4472C4" stroke-width="1.0"/>
<circle cx="125.2" cy="475.1" r="2.4" fill="#4472C4" stroke="#4472C4" stroke-width="1.0"/>
<circle cx="136.9" cy="472.1" r="2.4" fill="#4472C4" stroke="#4472C4" stroke-width="1.0"/>
<circle cx="148.7" cy="472.7" r="2.4" fill="#4472C4" stroke="#4472C4" stroke-width="1.0"/>
<circle cx="160.5" cy="471.8" r="2.4" fill="#4472C4" stroke="#4472C4" stroke-width="1.0"/>
<circle cx="172.2" cy="475.1" r="2.4" fill="#4472C4" stroke="#4472C4" stroke-width="1.0"/>
<circle cx="184.0" cy="473.3" r="2.4" fill="#4472C4" stroke="#4472C4" stroke-width="1.0"/>
<circle cx="195.7" cy="473.3" r="2.4" fill="#4472C4" stroke="#4472C4" stroke-width="1.0"/>
<circle cx="207.5" cy="474.8" r="2.4" fill="#4472C4" stroke="#4472C4" stroke-width="1.0"/>
<circle cx="219.3" cy="475.1" r="2.4" fill="#4472C4" stroke="#4472C4" stroke-width="1.0"/>
<circle cx="231.0" cy="473.3" r="2.4" fill="#4472C4" stroke="#4472C4" stroke-width="1.0"/>
<circle cx="242.8" cy="476.8" r="2.4" fill="#4472C4" stroke="#4472C4" stroke-width="1.0"/>
<circle cx="254.5" cy="475.1" r="2.4" fill="#4472C4" stroke="#4472C4" stroke-width="1.0"/>
<circle cx="266.3" cy="476.2" r="2.4" fill="#4472C4" stroke="#4472C4" stroke-width="1.0"/>
<circle cx="278.1" cy="476.8" r="2.4" fill="#4472C4" stroke="#4472C4" stroke-width="1.0"/>
<circle cx="289.8" cy="476.2" r="2.4" fill="#4472C4" stroke="#4472C4" stroke-width="1.0"/>
<circle cx="301.6" cy="477.7" r="2.4" fill="#4472C4" stroke="#4472C4" stroke-width="1.0"/>
<circle cx="313.4" cy="478.6" r="2.4" fill="#4472C4" stroke="#4472C4" stroke-width="1.0"/>
<circle cx="325.1" cy="477.7" r="2.4" fill="#4472C4" stroke="#4472C4" stroke-width="1.0"/>
<circle cx="336.9" cy="478.6" r="2.4" fill="#4472C4" stroke="#4472C4" stroke-width="1.0"/>
<circle cx="348.6" cy="478.9" r="2.4" fill="#4472C4" stroke="#4472C4" stroke-width="1.0"/>
<circle cx="360.4" cy="477.7" r="2.4" fill="#4472C4" stroke="#4472C4" stroke-width="1.0"/>
<circle cx="372.2" cy="477.7" r="2.4" fill="#4472C4" stroke="#4472C4" stroke-width="1.0"/>
<circle cx="383.9" cy="477.7" r="2.4" fill="#4472C4" stroke="#4472C4" stroke-width="1.0"/>
<circle cx="395.7" cy="478.6" r="2.4" fill="#4472C4" stroke="#4472C4" stroke-width="1.0"/>
<circle cx="407.4" cy="478.9" r="2.4" fill="#4472C4" stroke="#4472C4" stroke-width="1.0"/>
<circle cx="419.2" cy="478.9" r="2.4" fill="#4472C4" stroke="#4472C4" stroke-width="1.0"/>
<circle cx="431.0" cy="478.9" r="2.4" fill="#4472C4" stroke="#4472C4" stroke-width="1.0"/>
<circle cx="442.7" cy="478.9" r="2.4" fill="#4472C4" stroke="#4472C4" stroke-width="1.0"/>
<circle cx="454.5" cy="478.9" r="2.4" fill="#4472C4" stroke="#4472C4" stroke-width="1.0"/>
<circle cx="466.2" cy="478.9" r="2.4" fill="#4472C4" stroke="#4472C4" stroke-width="1.0"/>
<circle cx="478.0" cy="478.9" r="2.4" fill="#4472C4" stroke="#4472C4" stroke-width="1.0"/>
<circle cx="489.8" cy="478.9" r="2.4" fill="#4472C4" stroke="#4472C4" stroke-width="1.0"/>
<circle cx="501.5" cy="478.9" r="2.4" fill="#4472C4" stroke="#4472C4" stroke-width="1.0"/>
<polyline points="66.4,470.0 78.1,470.0 89.9,467.9 101.7,465.6 113.4,466.2 125.2,465.6 136.9,465.6 148.7,466.4 160.5,463.8 172.2,463.8 184.0,462.3 195.7,465.0 207.5,466.7 219.3,469.1 231.0,464.4 242.8,470.0 254.5,467.3 266.3,470.6 278.1,470.6 289.8,467.3 301.6,472.7 313.4,472.4 325.1,472.4 336.9,472.4 348.6,475.1 360.4,476.8 372.2,475.1 383.9,478.6 395.7,475.1 407.4,477.4 419.2,477.4 431.0,475.1 442.7,477.4 454.5,476.8 466.2,478.0 478.0,476.8 489.8,476.8 501.5,478.0" fill="none" stroke="#2E5A1C" stroke-width="1.9" stroke-linejoin="round"/>
<path d="M66.4 467.2L69.0 472.1L63.8 472.1Z" fill="#2E5A1C" stroke="#2E5A1C" stroke-width="1.0" stroke-linejoin="miter"/>
<path d="M78.1 467.2L80.7 472.1L75.5 472.1Z" fill="#2E5A1C" stroke="#2E5A1C" stroke-width="1.0" stroke-linejoin="miter"/>
<path d="M89.9 465.1L92.5 470.0L87.3 470.0Z" fill="#2E5A1C" stroke="#2E5A1C" stroke-width="1.0" stroke-linejoin="miter"/>
<path d="M101.7 462.8L104.3 467.6L99.1 467.6Z" fill="#2E5A1C" stroke="#2E5A1C" stroke-width="1.0" stroke-linejoin="miter"/>
<path d="M113.4 463.4L116.0 468.2L110.8 468.2Z" fill="#2E5A1C" stroke="#2E5A1C" stroke-width="1.0" stroke-linejoin="miter"/>
<path d="M125.2 462.8L127.8 467.6L122.6 467.6Z" fill="#2E5A1C" stroke="#2E5A1C" stroke-width="1.0" stroke-linejoin="miter"/>
<path d="M136.9 462.8L139.5 467.6L134.3 467.6Z" fill="#2E5A1C" stroke="#2E5A1C" stroke-width="1.0" stroke-linejoin="miter"/>
<path d="M148.7 463.6L151.3 468.5L146.1 468.5Z" fill="#2E5A1C" stroke="#2E5A1C" stroke-width="1.0" stroke-linejoin="miter"/>
<path d="M160.5 461.0L163.1 465.8L157.9 465.8Z" fill="#2E5A1C" stroke="#2E5A1C" stroke-width="1.0" stroke-linejoin="miter"/>
<path d="M172.2 461.0L174.8 465.8L169.6 465.8Z" fill="#2E5A1C" stroke="#2E5A1C" stroke-width="1.0" stroke-linejoin="miter"/>
<path d="M184.0 459.5L186.6 464.3L181.4 464.3Z" fill="#2E5A1C" stroke="#2E5A1C" stroke-width="1.0" stroke-linejoin="miter"/>
<path d="M195.7 462.2L198.3 467.0L193.1 467.0Z" fill="#2E5A1C" stroke="#2E5A1C" stroke-width="1.0" stroke-linejoin="miter"/>
<path d="M207.5 463.9L210.1 468.8L204.9 468.8Z" fill="#2E5A1C" stroke="#2E5A1C" stroke-width="1.0" stroke-linejoin="miter"/>
<path d="M219.3 466.3L221.9 471.2L216.7 471.2Z" fill="#2E5A1C" stroke="#2E5A1C" stroke-width="1.0" stroke-linejoin="miter"/>
<path d="M231.0 461.6L233.6 466.4L228.4 466.4Z" fill="#2E5A1C" stroke="#2E5A1C" stroke-width="1.0" stroke-linejoin="miter"/>
<path d="M242.8 467.2L245.4 472.1L240.2 472.1Z" fill="#2E5A1C" stroke="#2E5A1C" stroke-width="1.0" stroke-linejoin="miter"/>
<path d="M254.5 464.5L257.1 469.4L251.9 469.4Z" fill="#2E5A1C" stroke="#2E5A1C" stroke-width="1.0" stroke-linejoin="miter"/>
<path d="M266.3 467.8L268.9 472.6L263.7 472.6Z" fill="#2E5A1C" stroke="#2E5A1C" stroke-width="1.0" stroke-linejoin="miter"/>
<path d="M278.1 467.8L280.7 472.6L275.5 472.6Z" fill="#2E5A1C" stroke="#2E5A1C" stroke-width="1.0" stroke-linejoin="miter"/>
<path d="M289.8 464.5L292.4 469.4L287.2 469.4Z" fill="#2E5A1C" stroke="#2E5A1C" stroke-width="1.0" stroke-linejoin="miter"/>
<path d="M301.6 469.9L304.2 474.7L299.0 474.7Z" fill="#2E5A1C" stroke="#2E5A1C" stroke-width="1.0" stroke-linejoin="miter"/>
<path d="M313.4 469.6L316.0 474.4L310.8 474.4Z" fill="#2E5A1C" stroke="#2E5A1C" stroke-width="1.0" stroke-linejoin="miter"/>
<path d="M325.1 469.6L327.7 474.4L322.5 474.4Z" fill="#2E5A1C" stroke="#2E5A1C" stroke-width="1.0" stroke-linejoin="miter"/>
<path d="M336.9 469.6L339.5 474.4L334.3 474.4Z" fill="#2E5A1C" stroke="#2E5A1C" stroke-width="1.0" stroke-linejoin="miter"/>
<path d="M348.6 472.3L351.2 477.1L346.0 477.1Z" fill="#2E5A1C" stroke="#2E5A1C" stroke-width="1.0" stroke-linejoin="miter"/>
<path d="M360.4 474.0L363.0 478.9L357.8 478.9Z" fill="#2E5A1C" stroke="#2E5A1C" stroke-width="1.0" stroke-linejoin="miter"/>
<path d="M372.2 472.3L374.8 477.1L369.6 477.1Z" fill="#2E5A1C" stroke="#2E5A1C" stroke-width="1.0" stroke-linejoin="miter"/>
<path d="M383.9 475.8L386.5 480.7L381.3 480.7Z" fill="#2E5A1C" stroke="#2E5A1C" stroke-width="1.0" stroke-linejoin="miter"/>
<path d="M395.7 472.3L398.3 477.1L393.1 477.1Z" fill="#2E5A1C" stroke="#2E5A1C" stroke-width="1.0" stroke-linejoin="miter"/>
<path d="M407.4 474.6L410.0 479.5L404.8 479.5Z" fill="#2E5A1C" stroke="#2E5A1C" stroke-width="1.0" stroke-linejoin="miter"/>
<path d="M419.2 474.6L421.8 479.5L416.6 479.5Z" fill="#2E5A1C" stroke="#2E5A1C" stroke-width="1.0" stroke-linejoin="miter"/>
<path d="M431.0 472.3L433.6 477.1L428.4 477.1Z" fill="#2E5A1C" stroke="#2E5A1C" stroke-width="1.0" stroke-linejoin="miter"/>
<path d="M442.7 474.6L445.3 479.5L440.1 479.5Z" fill="#2E5A1C" stroke="#2E5A1C" stroke-width="1.0" stroke-linejoin="miter"/>
<path d="M454.5 474.0L457.1 478.9L451.9 478.9Z" fill="#2E5A1C" stroke="#2E5A1C" stroke-width="1.0" stroke-linejoin="miter"/>
<path d="M466.2 475.2L468.8 480.1L463.6 480.1Z" fill="#2E5A1C" stroke="#2E5A1C" stroke-width="1.0" stroke-linejoin="miter"/>
<path d="M478.0 474.0L480.6 478.9L475.4 478.9Z" fill="#2E5A1C" stroke="#2E5A1C" stroke-width="1.0" stroke-linejoin="miter"/>
<path d="M489.8 474.0L492.4 478.9L487.2 478.9Z" fill="#2E5A1C" stroke="#2E5A1C" stroke-width="1.0" stroke-linejoin="miter"/>
<path d="M501.5 475.2L504.1 480.1L498.9 480.1Z" fill="#2E5A1C" stroke="#2E5A1C" stroke-width="1.0" stroke-linejoin="miter"/>
<polyline points="66.4,455.8 78.1,458.1 89.9,446.3 101.7,451.9 113.4,455.8 125.2,445.1 136.9,450.1 148.7,453.1 160.5,445.1 172.2,442.7 184.0,449.2 195.7,454.9 207.5,454.3 219.3,453.7 231.0,449.2 242.8,445.4 254.5,447.4 266.3,447.4 278.1,448.0 289.8,450.7 301.6,458.7 313.4,460.5 325.1,456.9 336.9,462.0 348.6,469.1 360.4,462.6 372.2,470.6 383.9,463.8 395.7,470.6 407.4,467.3 419.2,469.1 431.0,470.0 442.7,471.8 454.5,473.6 466.2,473.3 478.0,472.4 489.8,472.4 501.5,472.7" fill="none" stroke="#24426E" stroke-width="1.9" stroke-linejoin="round"/>
<rect x="64.1" y="453.5" width="4.6" height="4.6" fill="#fff" stroke="#24426E" stroke-width="1.0"/>
<rect x="75.8" y="455.8" width="4.6" height="4.6" fill="#fff" stroke="#24426E" stroke-width="1.0"/>
<rect x="87.6" y="444.0" width="4.6" height="4.6" fill="#fff" stroke="#24426E" stroke-width="1.0"/>
<rect x="99.4" y="449.6" width="4.6" height="4.6" fill="#fff" stroke="#24426E" stroke-width="1.0"/>
<rect x="111.1" y="453.5" width="4.6" height="4.6" fill="#fff" stroke="#24426E" stroke-width="1.0"/>
<rect x="122.9" y="442.8" width="4.6" height="4.6" fill="#fff" stroke="#24426E" stroke-width="1.0"/>
<rect x="134.6" y="447.8" width="4.6" height="4.6" fill="#fff" stroke="#24426E" stroke-width="1.0"/>
<rect x="146.4" y="450.8" width="4.6" height="4.6" fill="#fff" stroke="#24426E" stroke-width="1.0"/>
<rect x="158.2" y="442.8" width="4.6" height="4.6" fill="#fff" stroke="#24426E" stroke-width="1.0"/>
<rect x="169.9" y="440.4" width="4.6" height="4.6" fill="#fff" stroke="#24426E" stroke-width="1.0"/>
<rect x="181.7" y="446.9" width="4.6" height="4.6" fill="#fff" stroke="#24426E" stroke-width="1.0"/>
<rect x="193.4" y="452.6" width="4.6" height="4.6" fill="#fff" stroke="#24426E" stroke-width="1.0"/>
<rect x="205.2" y="452.0" width="4.6" height="4.6" fill="#fff" stroke="#24426E" stroke-width="1.0"/>
<rect x="217.0" y="451.4" width="4.6" height="4.6" fill="#fff" stroke="#24426E" stroke-width="1.0"/>
<rect x="228.7" y="446.9" width="4.6" height="4.6" fill="#fff" stroke="#24426E" stroke-width="1.0"/>
<rect x="240.5" y="443.1" width="4.6" height="4.6" fill="#fff" stroke="#24426E" stroke-width="1.0"/>
<rect x="252.2" y="445.1" width="4.6" height="4.6" fill="#fff" stroke="#24426E" stroke-width="1.0"/>
<rect x="264.0" y="445.1" width="4.6" height="4.6" fill="#fff" stroke="#24426E" stroke-width="1.0"/>
<rect x="275.8" y="445.7" width="4.6" height="4.6" fill="#fff" stroke="#24426E" stroke-width="1.0"/>
<rect x="287.5" y="448.4" width="4.6" height="4.6" fill="#fff" stroke="#24426E" stroke-width="1.0"/>
<rect x="299.3" y="456.4" width="4.6" height="4.6" fill="#fff" stroke="#24426E" stroke-width="1.0"/>
<rect x="311.1" y="458.2" width="4.6" height="4.6" fill="#fff" stroke="#24426E" stroke-width="1.0"/>
<rect x="322.8" y="454.6" width="4.6" height="4.6" fill="#fff" stroke="#24426E" stroke-width="1.0"/>
<rect x="334.6" y="459.7" width="4.6" height="4.6" fill="#fff" stroke="#24426E" stroke-width="1.0"/>
<rect x="346.3" y="466.8" width="4.6" height="4.6" fill="#fff" stroke="#24426E" stroke-width="1.0"/>
<rect x="358.1" y="460.3" width="4.6" height="4.6" fill="#fff" stroke="#24426E" stroke-width="1.0"/>
<rect x="369.9" y="468.3" width="4.6" height="4.6" fill="#fff" stroke="#24426E" stroke-width="1.0"/>
<rect x="381.6" y="461.5" width="4.6" height="4.6" fill="#fff" stroke="#24426E" stroke-width="1.0"/>
<rect x="393.4" y="468.3" width="4.6" height="4.6" fill="#fff" stroke="#24426E" stroke-width="1.0"/>
<rect x="405.1" y="465.0" width="4.6" height="4.6" fill="#fff" stroke="#24426E" stroke-width="1.0"/>
<rect x="416.9" y="466.8" width="4.6" height="4.6" fill="#fff" stroke="#24426E" stroke-width="1.0"/>
<rect x="428.7" y="467.7" width="4.6" height="4.6" fill="#fff" stroke="#24426E" stroke-width="1.0"/>
<rect x="440.4" y="469.5" width="4.6" height="4.6" fill="#fff" stroke="#24426E" stroke-width="1.0"/>
<rect x="452.2" y="471.3" width="4.6" height="4.6" fill="#fff" stroke="#24426E" stroke-width="1.0"/>
<rect x="463.9" y="471.0" width="4.6" height="4.6" fill="#fff" stroke="#24426E" stroke-width="1.0"/>
<rect x="475.7" y="470.1" width="4.6" height="4.6" fill="#fff" stroke="#24426E" stroke-width="1.0"/>
<rect x="487.5" y="470.1" width="4.6" height="4.6" fill="#fff" stroke="#24426E" stroke-width="1.0"/>
<rect x="499.2" y="470.4" width="4.6" height="4.6" fill="#fff" stroke="#24426E" stroke-width="1.0"/>
<polyline points="66.4,426.1 78.1,419.8 89.9,435.6 101.7,419.0 113.4,429.0 125.2,390.5 136.9,430.8 148.7,423.7 160.5,407.7 172.2,404.7 184.0,396.4 195.7,421.0 207.5,421.3 219.3,419.0 231.0,410.0 242.8,413.3 254.5,402.0 266.3,418.1 278.1,419.5 289.8,414.2 301.6,427.6 313.4,437.1 325.1,437.1 336.9,433.2 348.6,438.8 360.4,435.6 372.2,446.3 383.9,442.4 395.7,451.6 407.4,448.3 419.2,458.1 431.0,453.7 442.7,453.1 454.5,455.8 466.2,455.5 478.0,462.6 489.8,462.6 501.5,458.1" fill="none" stroke="#8E4418" stroke-width="1.9" stroke-linejoin="round"/>
<circle cx="66.4" cy="426.1" r="2.4" fill="#fff" stroke="#8E4418" stroke-width="1.0"/>
<circle cx="78.1" cy="419.8" r="2.4" fill="#fff" stroke="#8E4418" stroke-width="1.0"/>
<circle cx="89.9" cy="435.6" r="2.4" fill="#fff" stroke="#8E4418" stroke-width="1.0"/>
<circle cx="101.7" cy="419.0" r="2.4" fill="#fff" stroke="#8E4418" stroke-width="1.0"/>
<circle cx="113.4" cy="429.0" r="2.4" fill="#fff" stroke="#8E4418" stroke-width="1.0"/>
<circle cx="125.2" cy="390.5" r="2.4" fill="#fff" stroke="#8E4418" stroke-width="1.0"/>
<circle cx="136.9" cy="430.8" r="2.4" fill="#fff" stroke="#8E4418" stroke-width="1.0"/>
<circle cx="148.7" cy="423.7" r="2.4" fill="#fff" stroke="#8E4418" stroke-width="1.0"/>
<circle cx="160.5" cy="407.7" r="2.4" fill="#fff" stroke="#8E4418" stroke-width="1.0"/>
<circle cx="172.2" cy="404.7" r="2.4" fill="#fff" stroke="#8E4418" stroke-width="1.0"/>
<circle cx="184.0" cy="396.4" r="2.4" fill="#fff" stroke="#8E4418" stroke-width="1.0"/>
<circle cx="195.7" cy="421.0" r="2.4" fill="#fff" stroke="#8E4418" stroke-width="1.0"/>
<circle cx="207.5" cy="421.3" r="2.4" fill="#fff" stroke="#8E4418" stroke-width="1.0"/>
<circle cx="219.3" cy="419.0" r="2.4" fill="#fff" stroke="#8E4418" stroke-width="1.0"/>
<circle cx="231.0" cy="410.0" r="2.4" fill="#fff" stroke="#8E4418" stroke-width="1.0"/>
<circle cx="242.8" cy="413.3" r="2.4" fill="#fff" stroke="#8E4418" stroke-width="1.0"/>
<circle cx="254.5" cy="402.0" r="2.4" fill="#fff" stroke="#8E4418" stroke-width="1.0"/>
<circle cx="266.3" cy="418.1" r="2.4" fill="#fff" stroke="#8E4418" stroke-width="1.0"/>
<circle cx="278.1" cy="419.5" r="2.4" fill="#fff" stroke="#8E4418" stroke-width="1.0"/>
<circle cx="289.8" cy="414.2" r="2.4" fill="#fff" stroke="#8E4418" stroke-width="1.0"/>
<circle cx="301.6" cy="427.6" r="2.4" fill="#fff" stroke="#8E4418" stroke-width="1.0"/>
<circle cx="313.4" cy="437.1" r="2.4" fill="#fff" stroke="#8E4418" stroke-width="1.0"/>
<circle cx="325.1" cy="437.1" r="2.4" fill="#fff" stroke="#8E4418" stroke-width="1.0"/>
<circle cx="336.9" cy="433.2" r="2.4" fill="#fff" stroke="#8E4418" stroke-width="1.0"/>
<circle cx="348.6" cy="438.8" r="2.4" fill="#fff" stroke="#8E4418" stroke-width="1.0"/>
<circle cx="360.4" cy="435.6" r="2.4" fill="#fff" stroke="#8E4418" stroke-width="1.0"/>
<circle cx="372.2" cy="446.3" r="2.4" fill="#fff" stroke="#8E4418" stroke-width="1.0"/>
<circle cx="383.9" cy="442.4" r="2.4" fill="#fff" stroke="#8E4418" stroke-width="1.0"/>
<circle cx="395.7" cy="451.6" r="2.4" fill="#fff" stroke="#8E4418" stroke-width="1.0"/>
<circle cx="407.4" cy="448.3" r="2.4" fill="#fff" stroke="#8E4418" stroke-width="1.0"/>
<circle cx="419.2" cy="458.1" r="2.4" fill="#fff" stroke="#8E4418" stroke-width="1.0"/>
<circle cx="431.0" cy="453.7" r="2.4" fill="#fff" stroke="#8E4418" stroke-width="1.0"/>
<circle cx="442.7" cy="453.1" r="2.4" fill="#fff" stroke="#8E4418" stroke-width="1.0"/>
<circle cx="454.5" cy="455.8" r="2.4" fill="#fff" stroke="#8E4418" stroke-width="1.0"/>
<circle cx="466.2" cy="455.5" r="2.4" fill="#fff" stroke="#8E4418" stroke-width="1.0"/>
<circle cx="478.0" cy="462.6" r="2.4" fill="#fff" stroke="#8E4418" stroke-width="1.0"/>
<circle cx="489.8" cy="462.6" r="2.4" fill="#fff" stroke="#8E4418" stroke-width="1.0"/>
<circle cx="501.5" cy="458.1" r="2.4" fill="#fff" stroke="#8E4418" stroke-width="1.0"/>
<polyline points="66.4,377.7 78.1,384.8 89.9,391.0 101.7,386.0 113.4,376.5 125.2,332.3 136.9,362.8 148.7,381.0 160.5,332.0 172.2,365.2 184.0,324.8 195.7,298.1 207.5,348.0 219.3,343.3 231.0,334.6 242.8,305.6 254.5,293.4 266.3,297.2 278.1,331.4 289.8,301.7 301.6,317.7 313.4,357.5 325.1,354.8 336.9,334.0 348.6,352.8 360.4,347.1 372.2,364.9 383.9,362.3 395.7,365.5 407.4,375.0 419.2,367.3 431.0,372.9 442.7,363.7 454.5,367.6 466.2,396.7 478.0,388.7 489.8,406.2 501.5,404.4" fill="none" stroke="#7A7A7A" stroke-width="1.9" stroke-linejoin="round"/>
<path d="M66.4 374.9L69.0 379.7L63.8 379.7Z" fill="#fff" stroke="#7A7A7A" stroke-width="1.0" stroke-linejoin="miter"/>
<path d="M78.1 382.0L80.7 386.9L75.5 386.9Z" fill="#fff" stroke="#7A7A7A" stroke-width="1.0" stroke-linejoin="miter"/>
<path d="M89.9 388.2L92.5 393.1L87.3 393.1Z" fill="#fff" stroke="#7A7A7A" stroke-width="1.0" stroke-linejoin="miter"/>
<path d="M101.7 383.2L104.3 388.0L99.1 388.0Z" fill="#fff" stroke="#7A7A7A" stroke-width="1.0" stroke-linejoin="miter"/>
<path d="M113.4 373.7L116.0 378.5L110.8 378.5Z" fill="#fff" stroke="#7A7A7A" stroke-width="1.0" stroke-linejoin="miter"/>
<path d="M125.2 329.5L127.8 334.3L122.6 334.3Z" fill="#fff" stroke="#7A7A7A" stroke-width="1.0" stroke-linejoin="miter"/>
<path d="M136.9 360.0L139.5 364.9L134.3 364.9Z" fill="#fff" stroke="#7A7A7A" stroke-width="1.0" stroke-linejoin="miter"/>
<path d="M148.7 378.2L151.3 383.0L146.1 383.0Z" fill="#fff" stroke="#7A7A7A" stroke-width="1.0" stroke-linejoin="miter"/>
<path d="M160.5 329.2L163.1 334.0L157.9 334.0Z" fill="#fff" stroke="#7A7A7A" stroke-width="1.0" stroke-linejoin="miter"/>
<path d="M172.2 362.4L174.8 367.3L169.6 367.3Z" fill="#fff" stroke="#7A7A7A" stroke-width="1.0" stroke-linejoin="miter"/>
<path d="M184.0 322.0L186.6 326.9L181.4 326.9Z" fill="#fff" stroke="#7A7A7A" stroke-width="1.0" stroke-linejoin="miter"/>
<path d="M195.7 295.3L198.3 300.2L193.1 300.2Z" fill="#fff" stroke="#7A7A7A" stroke-width="1.0" stroke-linejoin="miter"/>
<path d="M207.5 345.2L210.1 350.0L204.9 350.0Z" fill="#fff" stroke="#7A7A7A" stroke-width="1.0" stroke-linejoin="miter"/>
<path d="M219.3 340.5L221.9 345.3L216.7 345.3Z" fill="#fff" stroke="#7A7A7A" stroke-width="1.0" stroke-linejoin="miter"/>
<path d="M231.0 331.8L233.6 336.7L228.4 336.7Z" fill="#fff" stroke="#7A7A7A" stroke-width="1.0" stroke-linejoin="miter"/>
<path d="M242.8 302.8L245.4 307.6L240.2 307.6Z" fill="#fff" stroke="#7A7A7A" stroke-width="1.0" stroke-linejoin="miter"/>
<path d="M254.5 290.6L257.1 295.4L251.9 295.4Z" fill="#fff" stroke="#7A7A7A" stroke-width="1.0" stroke-linejoin="miter"/>
<path d="M266.3 294.4L268.9 299.3L263.7 299.3Z" fill="#fff" stroke="#7A7A7A" stroke-width="1.0" stroke-linejoin="miter"/>
<path d="M278.1 328.6L280.7 333.4L275.5 333.4Z" fill="#fff" stroke="#7A7A7A" stroke-width="1.0" stroke-linejoin="miter"/>
<path d="M289.8 298.9L292.4 303.7L287.2 303.7Z" fill="#fff" stroke="#7A7A7A" stroke-width="1.0" stroke-linejoin="miter"/>
<path d="M301.6 314.9L304.2 319.8L299.0 319.8Z" fill="#fff" stroke="#7A7A7A" stroke-width="1.0" stroke-linejoin="miter"/>
<path d="M313.4 354.7L316.0 359.5L310.8 359.5Z" fill="#fff" stroke="#7A7A7A" stroke-width="1.0" stroke-linejoin="miter"/>
<path d="M325.1 352.0L327.7 356.9L322.5 356.9Z" fill="#fff" stroke="#7A7A7A" stroke-width="1.0" stroke-linejoin="miter"/>
<path d="M336.9 331.2L339.5 336.1L334.3 336.1Z" fill="#fff" stroke="#7A7A7A" stroke-width="1.0" stroke-linejoin="miter"/>
<path d="M348.6 350.0L351.2 354.8L346.0 354.8Z" fill="#fff" stroke="#7A7A7A" stroke-width="1.0" stroke-linejoin="miter"/>
<path d="M360.4 344.3L363.0 349.2L357.8 349.2Z" fill="#fff" stroke="#7A7A7A" stroke-width="1.0" stroke-linejoin="miter"/>
<path d="M372.2 362.1L374.8 367.0L369.6 367.0Z" fill="#fff" stroke="#7A7A7A" stroke-width="1.0" stroke-linejoin="miter"/>
<path d="M383.9 359.5L386.5 364.3L381.3 364.3Z" fill="#fff" stroke="#7A7A7A" stroke-width="1.0" stroke-linejoin="miter"/>
<path d="M395.7 362.7L398.3 367.6L393.1 367.6Z" fill="#fff" stroke="#7A7A7A" stroke-width="1.0" stroke-linejoin="miter"/>
<path d="M407.4 372.2L410.0 377.1L404.8 377.1Z" fill="#fff" stroke="#7A7A7A" stroke-width="1.0" stroke-linejoin="miter"/>
<path d="M419.2 364.5L421.8 369.3L416.6 369.3Z" fill="#fff" stroke="#7A7A7A" stroke-width="1.0" stroke-linejoin="miter"/>
<path d="M431.0 370.1L433.6 375.0L428.4 375.0Z" fill="#fff" stroke="#7A7A7A" stroke-width="1.0" stroke-linejoin="miter"/>
<path d="M442.7 360.9L445.3 365.8L440.1 365.8Z" fill="#fff" stroke="#7A7A7A" stroke-width="1.0" stroke-linejoin="miter"/>
<path d="M454.5 364.8L457.1 369.6L451.9 369.6Z" fill="#fff" stroke="#7A7A7A" stroke-width="1.0" stroke-linejoin="miter"/>
<path d="M466.2 393.9L468.8 398.7L463.6 398.7Z" fill="#fff" stroke="#7A7A7A" stroke-width="1.0" stroke-linejoin="miter"/>
<path d="M478.0 385.9L480.6 390.7L475.4 390.7Z" fill="#fff" stroke="#7A7A7A" stroke-width="1.0" stroke-linejoin="miter"/>
<path d="M489.8 403.4L492.4 408.2L487.2 408.2Z" fill="#fff" stroke="#7A7A7A" stroke-width="1.0" stroke-linejoin="miter"/>
<path d="M501.5 401.6L504.1 406.4L498.9 406.4Z" fill="#fff" stroke="#7A7A7A" stroke-width="1.0" stroke-linejoin="miter"/>
<text transform="translate(17.2,249) rotate(-90)" text-anchor="middle" class="yt">Specific rates per 10<tspan dy="-5.5" font-size="7.5">5</tspan><tspan dy="5.5"> inhabitans</tspan></text>
<line x1="32.3" y1="536.8" x2="53.0" y2="536.8" stroke="#5B9BD5" stroke-width="1.5"/>
<path d="M43.1 534.5L45.4 536.8L43.1 539.1L40.8 536.8Z" fill="#5B9BD5" stroke="#5B9BD5" stroke-width="1.0"/>
<text x="55.0" y="540.4" class="lg">45-49</text>
<line x1="84.3" y1="536.8" x2="105.0" y2="536.8" stroke="#ED7D31" stroke-width="1.5"/>
<rect x="92.8" y="534.5" width="4.6" height="4.6" fill="#ED7D31" stroke="#ED7D31" stroke-width="1.0"/>
<text x="107.0" y="540.4" class="lg">50-54</text>
<line x1="136.8" y1="536.8" x2="157.5" y2="536.8" stroke="#A5A5A5" stroke-width="1.5"/>
<path d="M147.6 534.1L150.1 538.8L145.1 538.8Z" fill="#A5A5A5" stroke="#A5A5A5" stroke-width="1.0" stroke-linejoin="miter"/>
<text x="159.5" y="540.4" class="lg">55-59</text>
<line x1="189.3" y1="536.8" x2="210.0" y2="536.8" stroke="#F5B800" stroke-width="1.5"/>
<rect x="197.8" y="534.5" width="4.6" height="4.6" fill="#F5B800" stroke="#F5B800" stroke-width="1.0"/>
<text x="212.0" y="540.4" class="lg">60-64</text>
<line x1="241.6" y1="536.8" x2="262.3" y2="536.8" stroke="#4472C4" stroke-width="1.5"/>
<circle cx="252.4" cy="536.8" r="2.3" fill="#4472C4" stroke="#4472C4" stroke-width="1.0"/>
<text x="264.3" y="540.4" class="lg">65-69</text>
<line x1="293.9" y1="536.8" x2="314.6" y2="536.8" stroke="#2E5A1C" stroke-width="1.5"/>
<path d="M304.7 534.1L307.2 538.8L302.2 538.8Z" fill="#2E5A1C" stroke="#2E5A1C" stroke-width="1.0" stroke-linejoin="miter"/>
<text x="316.6" y="540.4" class="lg">70-74</text>
<line x1="345.7" y1="536.8" x2="366.4" y2="536.8" stroke="#24426E" stroke-width="1.5"/>
<rect x="354.2" y="534.5" width="4.6" height="4.6" fill="#fff" stroke="#24426E" stroke-width="1.0"/>
<text x="368.4" y="540.4" class="lg">75-79</text>
<line x1="398.4" y1="536.8" x2="419.1" y2="536.8" stroke="#8E4418" stroke-width="1.5"/>
<circle cx="409.2" cy="536.8" r="2.3" fill="#fff" stroke="#8E4418" stroke-width="1.0"/>
<text x="421.1" y="540.4" class="lg">80-84</text>
<line x1="451.0" y1="536.8" x2="471.7" y2="536.8" stroke="#7A7A7A" stroke-width="1.5"/>
<path d="M461.8 534.1L464.3 538.8L459.3 538.8Z" fill="#fff" stroke="#7A7A7A" stroke-width="1.0" stroke-linejoin="miter"/>
<text x="473.7" y="540.4" class="lg">85 and over</text>
</svg>
</body></html>
